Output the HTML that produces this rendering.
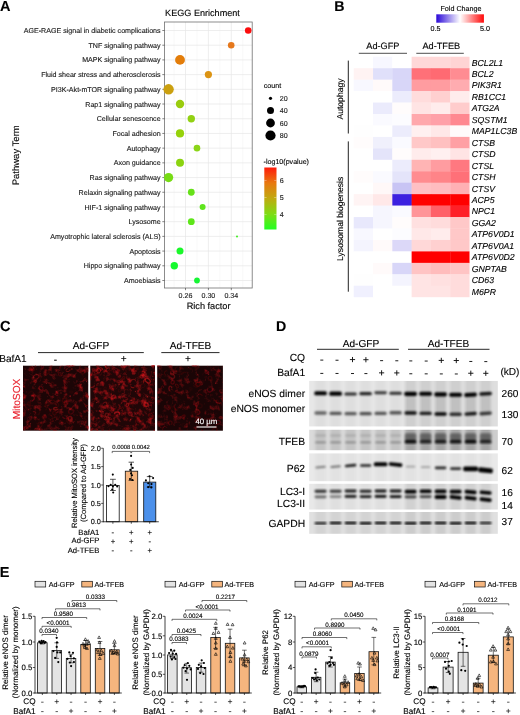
<!DOCTYPE html>
<html lang="en"><head><meta charset="utf-8"><title>Figure</title>
<style>
html,body{margin:0;padding:0;background:#fff;}
body{width:520px;height:715px;overflow:hidden;}
svg{display:block;font-family:"Liberation Sans",sans-serif;}
text{text-rendering:geometricPrecision;stroke:#000;stroke-width:0.12px;paint-order:stroke;}
</style></head><body>
<svg width="520" height="715" viewBox="0 0 520 715">
<rect width="520" height="715" fill="#fff"/>
<g id="panelA">
<text x="0" y="10.6" font-size="14.5" font-weight="bold">A</text>
<text x="202.5" y="15.5" font-size="9.1" text-anchor="middle">KEGG Enrichment</text>
<rect x="164.5" y="22" width="87.7" height="266" fill="#fff"/>
<line x1="174.1" y1="22" x2="174.1" y2="288" stroke="#f0f0f0" stroke-width="0.4"/>
<line x1="197" y1="22" x2="197" y2="288" stroke="#f0f0f0" stroke-width="0.4"/>
<line x1="219.9" y1="22" x2="219.9" y2="288" stroke="#f0f0f0" stroke-width="0.4"/>
<line x1="242.8" y1="22" x2="242.8" y2="288" stroke="#f0f0f0" stroke-width="0.4"/>
<line x1="185.5" y1="22" x2="185.5" y2="288" stroke="#e6e6e6" stroke-width="0.7"/>
<line x1="208.4" y1="22" x2="208.4" y2="288" stroke="#e6e6e6" stroke-width="0.7"/>
<line x1="231.3" y1="22" x2="231.3" y2="288" stroke="#e6e6e6" stroke-width="0.7"/>
<line x1="164.5" y1="30.5" x2="252.2" y2="30.5" stroke="#e6e6e6" stroke-width="0.7"/>
<line x1="164.5" y1="45.21" x2="252.2" y2="45.21" stroke="#e6e6e6" stroke-width="0.7"/>
<line x1="164.5" y1="59.91" x2="252.2" y2="59.91" stroke="#e6e6e6" stroke-width="0.7"/>
<line x1="164.5" y1="74.62" x2="252.2" y2="74.62" stroke="#e6e6e6" stroke-width="0.7"/>
<line x1="164.5" y1="89.32" x2="252.2" y2="89.32" stroke="#e6e6e6" stroke-width="0.7"/>
<line x1="164.5" y1="104.03" x2="252.2" y2="104.03" stroke="#e6e6e6" stroke-width="0.7"/>
<line x1="164.5" y1="118.74" x2="252.2" y2="118.74" stroke="#e6e6e6" stroke-width="0.7"/>
<line x1="164.5" y1="133.44" x2="252.2" y2="133.44" stroke="#e6e6e6" stroke-width="0.7"/>
<line x1="164.5" y1="148.15" x2="252.2" y2="148.15" stroke="#e6e6e6" stroke-width="0.7"/>
<line x1="164.5" y1="162.85" x2="252.2" y2="162.85" stroke="#e6e6e6" stroke-width="0.7"/>
<line x1="164.5" y1="177.56" x2="252.2" y2="177.56" stroke="#e6e6e6" stroke-width="0.7"/>
<line x1="164.5" y1="192.26" x2="252.2" y2="192.26" stroke="#e6e6e6" stroke-width="0.7"/>
<line x1="164.5" y1="206.97" x2="252.2" y2="206.97" stroke="#e6e6e6" stroke-width="0.7"/>
<line x1="164.5" y1="221.68" x2="252.2" y2="221.68" stroke="#e6e6e6" stroke-width="0.7"/>
<line x1="164.5" y1="236.38" x2="252.2" y2="236.38" stroke="#e6e6e6" stroke-width="0.7"/>
<line x1="164.5" y1="251.09" x2="252.2" y2="251.09" stroke="#e6e6e6" stroke-width="0.7"/>
<line x1="164.5" y1="265.79" x2="252.2" y2="265.79" stroke="#e6e6e6" stroke-width="0.7"/>
<line x1="164.5" y1="280.5" x2="252.2" y2="280.5" stroke="#e6e6e6" stroke-width="0.7"/>
<rect x="164.5" y="22" width="87.7" height="266" fill="none" stroke="#707070" stroke-width="0.8"/>
<g font-size="7.1" text-anchor="end" fill="#1a1a1a">
<text x="160.6" y="33.05">AGE-RAGE signal in diabetic complications</text>
<text x="160.6" y="47.76">TNF signaling pathway</text>
<text x="160.6" y="62.46">MAPK signaling pathway</text>
<text x="160.6" y="77.17">Fluid shear stress and atherosclerosis</text>
<text x="160.6" y="91.87">PI3K-Akt-mTOR signaling pathway</text>
<text x="160.6" y="106.58">Rap1 signaling pathway</text>
<text x="160.6" y="121.29">Cellular senescence</text>
<text x="160.6" y="135.99">Focal adhesion</text>
<text x="160.6" y="150.7">Autophagy</text>
<text x="160.6" y="165.4">Axon guidance</text>
<text x="160.6" y="180.11">Ras signaling pathway</text>
<text x="160.6" y="194.81">Relaxin signaling pathway</text>
<text x="160.6" y="209.52">HIF-1 signaling pathway</text>
<text x="160.6" y="224.23">Lysosome</text>
<text x="160.6" y="238.93">Amyotrophic lateral sclerosis (ALS)</text>
<text x="160.6" y="253.64">Apoptosis</text>
<text x="160.6" y="268.34">Hippo signaling pathway</text>
<text x="160.6" y="283.05">Amoebiasis</text>
</g>
<line x1="162.3" y1="30.5" x2="164.5" y2="30.5" stroke="#333" stroke-width="0.6"/>
<line x1="162.3" y1="45.21" x2="164.5" y2="45.21" stroke="#333" stroke-width="0.6"/>
<line x1="162.3" y1="59.91" x2="164.5" y2="59.91" stroke="#333" stroke-width="0.6"/>
<line x1="162.3" y1="74.62" x2="164.5" y2="74.62" stroke="#333" stroke-width="0.6"/>
<line x1="162.3" y1="89.32" x2="164.5" y2="89.32" stroke="#333" stroke-width="0.6"/>
<line x1="162.3" y1="104.03" x2="164.5" y2="104.03" stroke="#333" stroke-width="0.6"/>
<line x1="162.3" y1="118.74" x2="164.5" y2="118.74" stroke="#333" stroke-width="0.6"/>
<line x1="162.3" y1="133.44" x2="164.5" y2="133.44" stroke="#333" stroke-width="0.6"/>
<line x1="162.3" y1="148.15" x2="164.5" y2="148.15" stroke="#333" stroke-width="0.6"/>
<line x1="162.3" y1="162.85" x2="164.5" y2="162.85" stroke="#333" stroke-width="0.6"/>
<line x1="162.3" y1="177.56" x2="164.5" y2="177.56" stroke="#333" stroke-width="0.6"/>
<line x1="162.3" y1="192.26" x2="164.5" y2="192.26" stroke="#333" stroke-width="0.6"/>
<line x1="162.3" y1="206.97" x2="164.5" y2="206.97" stroke="#333" stroke-width="0.6"/>
<line x1="162.3" y1="221.68" x2="164.5" y2="221.68" stroke="#333" stroke-width="0.6"/>
<line x1="162.3" y1="236.38" x2="164.5" y2="236.38" stroke="#333" stroke-width="0.6"/>
<line x1="162.3" y1="251.09" x2="164.5" y2="251.09" stroke="#333" stroke-width="0.6"/>
<line x1="162.3" y1="265.79" x2="164.5" y2="265.79" stroke="#333" stroke-width="0.6"/>
<line x1="162.3" y1="280.5" x2="164.5" y2="280.5" stroke="#333" stroke-width="0.6"/>
<circle cx="248.2" cy="30.5" r="3.3" fill="#fb0d0d"/>
<circle cx="231.2" cy="45.21" r="3.3" fill="#e5781c"/>
<circle cx="180" cy="59.91" r="4.9" fill="#e37d0a"/>
<circle cx="208.4" cy="74.62" r="3.6" fill="#dc9414"/>
<circle cx="168.6" cy="89.32" r="5.2" fill="#cba00f"/>
<circle cx="180" cy="104.03" r="4.2" fill="#9acc0e"/>
<circle cx="191.3" cy="118.74" r="3.7" fill="#92d113"/>
<circle cx="180" cy="133.44" r="4.1" fill="#96d20a"/>
<circle cx="197" cy="148.15" r="3.3" fill="#8bd518"/>
<circle cx="180" cy="162.85" r="4" fill="#8bd30f"/>
<circle cx="168.6" cy="177.56" r="4.6" fill="#77dc14"/>
<circle cx="191.3" cy="192.26" r="3.4" fill="#66e119"/>
<circle cx="202.6" cy="206.97" r="3" fill="#5fe51e"/>
<circle cx="191.3" cy="221.68" r="3.4" fill="#5ee619"/>
<circle cx="237" cy="236.38" r="1" fill="#3cee1e"/>
<circle cx="180" cy="251.09" r="3.5" fill="#1af82a"/>
<circle cx="174.3" cy="265.79" r="3.7" fill="#15f92e"/>
<circle cx="197" cy="280.5" r="2.9" fill="#16f534"/>
<line x1="185.5" y1="288" x2="185.5" y2="290.2" stroke="#333" stroke-width="0.6"/>
<text x="185.5" y="297.54" font-size="7.1" text-anchor="middle" fill="#1a1a1a">0.26</text>
<line x1="208.4" y1="288" x2="208.4" y2="290.2" stroke="#333" stroke-width="0.6"/>
<text x="208.4" y="297.54" font-size="7.1" text-anchor="middle" fill="#1a1a1a">0.30</text>
<line x1="231.3" y1="288" x2="231.3" y2="290.2" stroke="#333" stroke-width="0.6"/>
<text x="231.3" y="297.54" font-size="7.1" text-anchor="middle" fill="#1a1a1a">0.34</text>
<text x="208.6" y="308.79" font-size="9.2" text-anchor="middle">Rich factor</text>
<text x="18.6" y="155.3" font-size="9.5" text-anchor="middle" transform="rotate(-90 18.6 155.3)">Pathway Term</text>
<text x="263.8" y="88.14" font-size="7.1">count</text>
<circle cx="270.5" cy="98.3" r="1.6" fill="#000"/>
<text x="279.8" y="100.84" font-size="7.1" fill="#1a1a1a">20</text>
<circle cx="270.5" cy="110.6" r="3.5" fill="#000"/>
<text x="279.8" y="113.14" font-size="7.1" fill="#1a1a1a">40</text>
<circle cx="270.5" cy="123" r="4.4" fill="#000"/>
<text x="279.8" y="125.54" font-size="7.1" fill="#1a1a1a">60</text>
<circle cx="270.5" cy="135.5" r="5.1" fill="#000"/>
<text x="279.8" y="138.04" font-size="7.1" fill="#1a1a1a">80</text>
<text x="263.6" y="164.14" font-size="7.1">-log10(pvalue)</text>
<defs><linearGradient id="gp" x1="0" y1="0" x2="0" y2="1"><stop offset="0" stop-color="#ff1a0a"/><stop offset="0.25" stop-color="#e8780f"/><stop offset="0.5" stop-color="#c0aa10"/><stop offset="0.75" stop-color="#7fdc14"/><stop offset="1" stop-color="#22ff22"/></linearGradient></defs>
<rect x="264.3" y="167.5" width="12.2" height="62" fill="url(#gp)"/>
<line x1="264.3" y1="180.6" x2="266.6" y2="180.6" stroke="#fff" stroke-width="0.5" opacity="0.7"/>
<line x1="274.2" y1="180.6" x2="276.5" y2="180.6" stroke="#fff" stroke-width="0.5" opacity="0.7"/>
<text x="279.8" y="183.14" font-size="7.1" fill="#1a1a1a">6</text>
<line x1="264.3" y1="197.5" x2="266.6" y2="197.5" stroke="#fff" stroke-width="0.5" opacity="0.7"/>
<line x1="274.2" y1="197.5" x2="276.5" y2="197.5" stroke="#fff" stroke-width="0.5" opacity="0.7"/>
<text x="279.8" y="200.04" font-size="7.1" fill="#1a1a1a">5</text>
<line x1="264.3" y1="214.4" x2="266.6" y2="214.4" stroke="#fff" stroke-width="0.5" opacity="0.7"/>
<line x1="274.2" y1="214.4" x2="276.5" y2="214.4" stroke="#fff" stroke-width="0.5" opacity="0.7"/>
<text x="279.8" y="216.94" font-size="7.1" fill="#1a1a1a">4</text>
</g>
<g id="panelB">
<text x="334.2" y="11.3" font-size="14.2" font-weight="bold">B</text>
<text x="461" y="10.78" font-size="7.2" text-anchor="middle">Fold Change</text>
<defs><linearGradient id="gf" x1="0" y1="0" x2="1" y2="0"><stop offset="0" stop-color="#2a08d8"/><stop offset="0.5" stop-color="#ffffff"/><stop offset="1" stop-color="#ff0808"/></linearGradient></defs>
<rect x="436.3" y="14.3" width="47.6" height="8.4" fill="url(#gf)"/>
<text x="435.6" y="31.08" font-size="7.2" text-anchor="middle">0.5</text>
<text x="485" y="31.08" font-size="7.2" text-anchor="middle">5.0</text>
<text x="382.9" y="48.99" font-size="9.2" text-anchor="middle">Ad-GFP</text>
<text x="441.3" y="48.99" font-size="9.2" text-anchor="middle">Ad-TFEB</text>
<line x1="358.8" y1="53.3" x2="407" y2="53.3" stroke="#222" stroke-width="0.8"/>
<line x1="416.3" y1="53.3" x2="463.8" y2="53.3" stroke="#222" stroke-width="0.8"/>
<g>
<rect x="353.75" y="56.75" width="19.59" height="11.75" fill="#ffffff"/>
<rect x="373.04" y="56.75" width="19.59" height="11.75" fill="#f7f7ff"/>
<rect x="392.33" y="56.75" width="19.59" height="11.75" fill="#ffffff"/>
<rect x="411.62" y="56.75" width="19.59" height="11.75" fill="#ffd8d8"/>
<rect x="430.92" y="56.75" width="19.59" height="11.75" fill="#ffd8d8"/>
<rect x="450.21" y="56.75" width="19.29" height="11.75" fill="#ffd4d4"/>
<rect x="353.75" y="68.2" width="19.59" height="11.75" fill="#fff3f3"/>
<rect x="373.04" y="68.2" width="19.59" height="11.75" fill="#e0e0fa"/>
<rect x="392.33" y="68.2" width="19.59" height="11.75" fill="#d8d6f8"/>
<rect x="411.62" y="68.2" width="19.59" height="11.75" fill="#ff7078"/>
<rect x="430.92" y="68.2" width="19.59" height="11.75" fill="#ff6a72"/>
<rect x="450.21" y="68.2" width="19.29" height="11.75" fill="#ff8c92"/>
<rect x="353.75" y="79.65" width="19.59" height="11.75" fill="#f8f8ff"/>
<rect x="373.04" y="79.65" width="19.59" height="11.75" fill="#fffafa"/>
<rect x="392.33" y="79.65" width="19.59" height="11.75" fill="#d8d6f8"/>
<rect x="411.62" y="79.65" width="19.59" height="11.75" fill="#ff9ca0"/>
<rect x="430.92" y="79.65" width="19.59" height="11.75" fill="#ff9ca0"/>
<rect x="450.21" y="79.65" width="19.29" height="11.75" fill="#ffacb0"/>
<rect x="353.75" y="91.1" width="19.59" height="11.75" fill="#ffffff"/>
<rect x="373.04" y="91.1" width="19.59" height="11.75" fill="#ffffff"/>
<rect x="392.33" y="91.1" width="19.59" height="11.75" fill="#ececfc"/>
<rect x="411.62" y="91.1" width="19.59" height="11.75" fill="#ffdcdc"/>
<rect x="430.92" y="91.1" width="19.59" height="11.75" fill="#ffd0d0"/>
<rect x="450.21" y="91.1" width="19.29" height="11.75" fill="#ffecec"/>
<rect x="353.75" y="102.55" width="19.59" height="11.75" fill="#ffffff"/>
<rect x="373.04" y="102.55" width="19.59" height="11.75" fill="#ebebfc"/>
<rect x="392.33" y="102.55" width="19.59" height="11.75" fill="#fffcfc"/>
<rect x="411.62" y="102.55" width="19.59" height="11.75" fill="#ffe4e4"/>
<rect x="430.92" y="102.55" width="19.59" height="11.75" fill="#ffecec"/>
<rect x="450.21" y="102.55" width="19.29" height="11.75" fill="#ffcccc"/>
<rect x="353.75" y="114" width="19.59" height="11.75" fill="#ffffff"/>
<rect x="373.04" y="114" width="19.59" height="11.75" fill="#fafaff"/>
<rect x="392.33" y="114" width="19.59" height="11.75" fill="#fcfcff"/>
<rect x="411.62" y="114" width="19.59" height="11.75" fill="#ffa8ac"/>
<rect x="430.92" y="114" width="19.59" height="11.75" fill="#ffa0a8"/>
<rect x="450.21" y="114" width="19.29" height="11.75" fill="#ff8890"/>
<rect x="353.75" y="125.45" width="19.59" height="11.75" fill="#fefefe"/>
<rect x="373.04" y="125.45" width="19.59" height="11.75" fill="#ffffff"/>
<rect x="392.33" y="125.45" width="19.59" height="11.75" fill="#ececfc"/>
<rect x="411.62" y="125.45" width="19.59" height="11.75" fill="#fff0f0"/>
<rect x="430.92" y="125.45" width="19.59" height="11.75" fill="#ffe8e8"/>
<rect x="450.21" y="125.45" width="19.29" height="11.75" fill="#fffafa"/>
<rect x="353.75" y="136.9" width="19.59" height="11.75" fill="#fffcfc"/>
<rect x="373.04" y="136.9" width="19.59" height="11.75" fill="#f0f0fc"/>
<rect x="392.33" y="136.9" width="19.59" height="11.75" fill="#fafaff"/>
<rect x="411.62" y="136.9" width="19.59" height="11.75" fill="#ffc8c8"/>
<rect x="430.92" y="136.9" width="19.59" height="11.75" fill="#ffc0c0"/>
<rect x="450.21" y="136.9" width="19.29" height="11.75" fill="#ffa0a4"/>
<rect x="353.75" y="148.35" width="19.59" height="11.75" fill="#ffffff"/>
<rect x="373.04" y="148.35" width="19.59" height="11.75" fill="#e4e4fa"/>
<rect x="392.33" y="148.35" width="19.59" height="11.75" fill="#fffcfc"/>
<rect x="411.62" y="148.35" width="19.59" height="11.75" fill="#ffecec"/>
<rect x="430.92" y="148.35" width="19.59" height="11.75" fill="#fff0f0"/>
<rect x="450.21" y="148.35" width="19.29" height="11.75" fill="#ffe4e4"/>
<rect x="353.75" y="159.8" width="19.59" height="11.75" fill="#ffffff"/>
<rect x="373.04" y="159.8" width="19.59" height="11.75" fill="#ffffff"/>
<rect x="392.33" y="159.8" width="19.59" height="11.75" fill="#ececfc"/>
<rect x="411.62" y="159.8" width="19.59" height="11.75" fill="#ffb4b4"/>
<rect x="430.92" y="159.8" width="19.59" height="11.75" fill="#ff9ca0"/>
<rect x="450.21" y="159.8" width="19.29" height="11.75" fill="#ff7880"/>
<rect x="353.75" y="171.25" width="19.59" height="11.75" fill="#fffcfc"/>
<rect x="373.04" y="171.25" width="19.59" height="11.75" fill="#fafaff"/>
<rect x="392.33" y="171.25" width="19.59" height="11.75" fill="#e4e4fa"/>
<rect x="411.62" y="171.25" width="19.59" height="11.75" fill="#ff8c90"/>
<rect x="430.92" y="171.25" width="19.59" height="11.75" fill="#ff8488"/>
<rect x="450.21" y="171.25" width="19.29" height="11.75" fill="#ff7078"/>
<rect x="353.75" y="182.7" width="19.59" height="11.75" fill="#ffffff"/>
<rect x="373.04" y="182.7" width="19.59" height="11.75" fill="#fff8f8"/>
<rect x="392.33" y="182.7" width="19.59" height="11.75" fill="#c8c4f4"/>
<rect x="411.62" y="182.7" width="19.59" height="11.75" fill="#ffc0c4"/>
<rect x="430.92" y="182.7" width="19.59" height="11.75" fill="#ffbcc0"/>
<rect x="450.21" y="182.7" width="19.29" height="11.75" fill="#ffb0b4"/>
<rect x="353.75" y="194.15" width="19.59" height="11.75" fill="#fff4f4"/>
<rect x="373.04" y="194.15" width="19.59" height="11.75" fill="#ffe8e8"/>
<rect x="392.33" y="194.15" width="19.59" height="11.75" fill="#3c20e0"/>
<rect x="411.62" y="194.15" width="19.59" height="11.75" fill="#ff0000"/>
<rect x="430.92" y="194.15" width="19.59" height="11.75" fill="#ff0000"/>
<rect x="450.21" y="194.15" width="19.29" height="11.75" fill="#ff0000"/>
<rect x="353.75" y="205.6" width="19.59" height="11.75" fill="#ffffff"/>
<rect x="373.04" y="205.6" width="19.59" height="11.75" fill="#f6f6fe"/>
<rect x="392.33" y="205.6" width="19.59" height="11.75" fill="#fafaff"/>
<rect x="411.62" y="205.6" width="19.59" height="11.75" fill="#ff9498"/>
<rect x="430.92" y="205.6" width="19.59" height="11.75" fill="#ff6068"/>
<rect x="450.21" y="205.6" width="19.29" height="11.75" fill="#ff2028"/>
<rect x="353.75" y="217.05" width="19.59" height="11.75" fill="#e8e8fc"/>
<rect x="373.04" y="217.05" width="19.59" height="11.75" fill="#f6f6fe"/>
<rect x="392.33" y="217.05" width="19.59" height="11.75" fill="#fffcfc"/>
<rect x="411.62" y="217.05" width="19.59" height="11.75" fill="#ffe0e0"/>
<rect x="430.92" y="217.05" width="19.59" height="11.75" fill="#ffdcdc"/>
<rect x="450.21" y="217.05" width="19.29" height="11.75" fill="#ffc8c8"/>
<rect x="353.75" y="228.5" width="19.59" height="11.75" fill="#f8f8ff"/>
<rect x="373.04" y="228.5" width="19.59" height="11.75" fill="#ffffff"/>
<rect x="392.33" y="228.5" width="19.59" height="11.75" fill="#fcfcff"/>
<rect x="411.62" y="228.5" width="19.59" height="11.75" fill="#ffe8e8"/>
<rect x="430.92" y="228.5" width="19.59" height="11.75" fill="#ffecec"/>
<rect x="450.21" y="228.5" width="19.29" height="11.75" fill="#ffc8c8"/>
<rect x="353.75" y="239.95" width="19.59" height="11.75" fill="#f4f4fe"/>
<rect x="373.04" y="239.95" width="19.59" height="11.75" fill="#fffafa"/>
<rect x="392.33" y="239.95" width="19.59" height="11.75" fill="#dcd8f8"/>
<rect x="411.62" y="239.95" width="19.59" height="11.75" fill="#ffd8d8"/>
<rect x="430.92" y="239.95" width="19.59" height="11.75" fill="#ffd0d0"/>
<rect x="450.21" y="239.95" width="19.29" height="11.75" fill="#ffc8c8"/>
<rect x="353.75" y="251.4" width="19.59" height="11.75" fill="#ffffff"/>
<rect x="373.04" y="251.4" width="19.59" height="11.75" fill="#ffffff"/>
<rect x="392.33" y="251.4" width="19.59" height="11.75" fill="#ffffff"/>
<rect x="411.62" y="251.4" width="19.59" height="11.75" fill="#ff0000"/>
<rect x="430.92" y="251.4" width="19.59" height="11.75" fill="#ff0000"/>
<rect x="450.21" y="251.4" width="19.29" height="11.75" fill="#ff0000"/>
<rect x="353.75" y="262.85" width="19.59" height="11.75" fill="#ffffff"/>
<rect x="373.04" y="262.85" width="19.59" height="11.75" fill="#fffafa"/>
<rect x="392.33" y="262.85" width="19.59" height="11.75" fill="#d8d6f8"/>
<rect x="411.62" y="262.85" width="19.59" height="11.75" fill="#ffc4c4"/>
<rect x="430.92" y="262.85" width="19.59" height="11.75" fill="#ffbcbc"/>
<rect x="450.21" y="262.85" width="19.29" height="11.75" fill="#ffc4c4"/>
<rect x="353.75" y="274.3" width="19.59" height="11.75" fill="#fefefe"/>
<rect x="373.04" y="274.3" width="19.59" height="11.75" fill="#ffffff"/>
<rect x="392.33" y="274.3" width="19.59" height="11.75" fill="#f4f4fe"/>
<rect x="411.62" y="274.3" width="19.59" height="11.75" fill="#ffe4e4"/>
<rect x="430.92" y="274.3" width="19.59" height="11.75" fill="#ffe0e0"/>
<rect x="450.21" y="274.3" width="19.29" height="11.75" fill="#ffdcdc"/>
<rect x="353.75" y="285.75" width="19.59" height="11.45" fill="#f0f0fe"/>
<rect x="373.04" y="285.75" width="19.59" height="11.45" fill="#ffffff"/>
<rect x="392.33" y="285.75" width="19.59" height="11.45" fill="#ffffff"/>
<rect x="411.62" y="285.75" width="19.59" height="11.45" fill="#ffe4e4"/>
<rect x="430.92" y="285.75" width="19.59" height="11.45" fill="#ffe4e4"/>
<rect x="450.21" y="285.75" width="19.29" height="11.45" fill="#ffdcdc"/>
</g>
<g font-size="8.7" font-style="italic">
<text x="471.8" y="65.59">BCL2L1</text>
<text x="471.8" y="77.04">BCL2</text>
<text x="471.8" y="88.49">PIK3R1</text>
<text x="471.8" y="99.94">RB1CC1</text>
<text x="471.8" y="111.39">ATG2A</text>
<text x="471.8" y="122.84">SQSTM1</text>
<text x="471.8" y="134.29">MAP1LC3B</text>
<text x="471.8" y="145.74">CTSB</text>
<text x="471.8" y="157.19">CTSD</text>
<text x="471.8" y="168.64">CTSL</text>
<text x="471.8" y="180.09">CTSH</text>
<text x="471.8" y="191.54">CTSV</text>
<text x="471.8" y="202.99">ACP5</text>
<text x="471.8" y="214.44">NPC1</text>
<text x="471.8" y="225.89">GGA2</text>
<text x="471.8" y="237.34">ATP6V0D1</text>
<text x="471.8" y="248.79">ATP6V0A1</text>
<text x="471.8" y="260.24">ATP6V0D2</text>
<text x="471.8" y="271.69">GNPTAB</text>
<text x="471.8" y="283.14">CD63</text>
<text x="471.8" y="294.59">M6PR</text>
</g>
<line x1="348.3" y1="60.6" x2="348.3" y2="133.5" stroke="#222" stroke-width="1"/>
<line x1="348.3" y1="141.4" x2="348.3" y2="291.7" stroke="#222" stroke-width="1"/>
<text x="343.48" y="99" font-size="8.6" text-anchor="middle" transform="rotate(-90 343.48 99)">Autophagy</text>
<text x="343.48" y="218.8" font-size="8.6" text-anchor="middle" transform="rotate(-90 343.48 218.8)">Lysosomal biogenesis</text>
</g>
<g id="panelC">
<defs><filter id="blur0" x="-20%" y="-20%" width="140%" height="140%"><feGaussianBlur stdDeviation="0.35"/></filter><filter id="blur1" x="-20%" y="-20%" width="140%" height="140%"><feGaussianBlur stdDeviation="0.65"/></filter><filter id="blur2" x="-20%" y="-20%" width="140%" height="140%"><feGaussianBlur stdDeviation="1.6"/></filter></defs>
<text x="0" y="330.6" font-size="14.5" font-weight="bold">C</text>
<text x="91" y="349.22" font-size="10.1" text-anchor="middle">Ad-GFP</text>
<text x="190.6" y="349.22" font-size="10.1" text-anchor="middle">Ad-TFEB</text>
<line x1="38" y1="352.6" x2="143.8" y2="352.6" stroke="#111" stroke-width="0.9"/>
<line x1="161.3" y1="352.6" x2="219.5" y2="352.6" stroke="#111" stroke-width="0.9"/>
<text x="-0.8" y="361.82" font-size="10.1">BafA1</text>
<text x="55.5" y="362.62" font-size="10.1" text-anchor="middle">-</text>
<text x="123.8" y="362.22" font-size="10.1" text-anchor="middle">+</text>
<text x="188" y="362.22" font-size="10.1" text-anchor="middle">+</text>
<text x="19.95" y="399" font-size="10.2" text-anchor="middle" transform="rotate(-90 19.95 399)" fill="#e8202c" style="stroke:#e8202c">MitoSOX</text>
<clipPath id="mc1"><rect x="23" y="365.7" width="65.25" height="65"/></clipPath>
<filter id="nz1" x="0" y="0" width="100%" height="100%" color-interpolation-filters="sRGB"><feTurbulence type="fractalNoise" baseFrequency="0.19" numOctaves="3" seed="11"/><feColorMatrix values="0 0 0 0 0.72  0 0 0 0 0.07  0 0 0 0 0.09  1.9 0 0 0 -0.96"/></filter>
<rect x="23" y="365.7" width="65.25" height="65" fill="#1c0506"/>
<rect x="23" y="365.7" width="65.25" height="65" fill="#000" filter="url(#nz1)"/>
<g clip-path="url(#mc1)">
<g filter="url(#blur1)" fill="none" stroke="#d8161c">
<ellipse cx="52.52" cy="402.09" rx="2.78" ry="1.97" stroke-width="0.93" stroke-dasharray="10.7 15.14" opacity="0.15" transform="rotate(182.82 52.52 402.09)"/>
<ellipse cx="64.1" cy="417.24" rx="1.45" ry="0.92" stroke-width="1.29" stroke-dasharray="3.25 7.64" opacity="0.28" transform="rotate(32.64 64.1 417.24)"/>
<ellipse cx="87.09" cy="428.41" rx="2.35" ry="1.82" stroke-width="1.17" stroke-dasharray="5.75 13.2" opacity="0.06" transform="rotate(56.7 87.09 428.41)"/>
<ellipse cx="35.41" cy="381.43" rx="1.35" ry="0.96" stroke-width="1.16" stroke-dasharray="5.76 7.34" opacity="0.3" transform="rotate(158.59 35.41 381.43)"/>
<ellipse cx="55.61" cy="408.76" rx="2.03" ry="1.27" stroke-width="1.39" stroke-dasharray="8.78 10.65" opacity="0.43" transform="rotate(359.16 55.61 408.76)"/>
<ellipse cx="43.57" cy="380.63" rx="1.76" ry="0.94" stroke-width="1.39" stroke-dasharray="5.6 8.87" opacity="0.09" transform="rotate(275.86 43.57 380.63)"/>
<ellipse cx="85.51" cy="420.78" rx="1.3" ry="0.77" stroke-width="1.49" stroke-dasharray="4.29 6.72" opacity="0.11" transform="rotate(327.7 85.51 420.78)"/>
<ellipse cx="27.77" cy="406.61" rx="2.55" ry="1.58" stroke-width="1.47" stroke-dasharray="11.38 13.32" opacity="0.08" transform="rotate(31.37 27.77 406.61)"/>
<ellipse cx="30.7" cy="381.72" rx="1.46" ry="0.77" stroke-width="1.19" stroke-dasharray="4.91 7.34" opacity="0.06" transform="rotate(286.93 30.7 381.72)"/>
<ellipse cx="35.44" cy="413.27" rx="1.51" ry="1.19" stroke-width="0.95" stroke-dasharray="4.8 8.55" opacity="0.1" transform="rotate(41.94 35.44 413.27)"/>
<ellipse cx="86.35" cy="417.92" rx="1.79" ry="1.6" stroke-width="1.4" stroke-dasharray="8.38 10.67" opacity="0.09" transform="rotate(75.86 86.35 417.92)"/>
<ellipse cx="29.55" cy="430" rx="1.64" ry="1.01" stroke-width="1.01" stroke-dasharray="3.8 8.56" opacity="0.08" transform="rotate(278.17 29.55 430)"/>
<ellipse cx="28.88" cy="403.58" rx="1.69" ry="1.3" stroke-width="1.47" stroke-dasharray="6.54 9.47" opacity="0.11" transform="rotate(133.81 28.88 403.58)"/>
<ellipse cx="60.49" cy="422.02" rx="1.59" ry="0.91" stroke-width="0.97" stroke-dasharray="4.18 8.14" opacity="0.28" transform="rotate(327.03 60.49 422.02)"/>
<ellipse cx="71.25" cy="426.83" rx="1.61" ry="1.5" stroke-width="1.1" stroke-dasharray="4.52 9.78" opacity="0.16" transform="rotate(317.59 71.25 426.83)"/>
<ellipse cx="25.52" cy="428.27" rx="1.68" ry="1.37" stroke-width="1.22" stroke-dasharray="5.56 9.65" opacity="0.29" transform="rotate(92.51 25.52 428.27)"/>
<ellipse cx="34.45" cy="412.52" rx="1.41" ry="0.85" stroke-width="1.23" stroke-dasharray="4.16 7.31" opacity="0.31" transform="rotate(201.37 34.45 412.52)"/>
<ellipse cx="82.86" cy="378.96" rx="1.33" ry="0.82" stroke-width="0.92" stroke-dasharray="4.31 6.94" opacity="0.06" transform="rotate(160.45 82.86 378.96)"/>
<ellipse cx="60.33" cy="374.25" rx="1.88" ry="1.69" stroke-width="1.28" stroke-dasharray="8.44 11.24" opacity="0.19" transform="rotate(352.98 60.33 374.25)"/>
<ellipse cx="32.16" cy="367.98" rx="1.33" ry="1.21" stroke-width="0.81" stroke-dasharray="6.24 7.98" opacity="0.4" transform="rotate(252.35 32.16 367.98)"/>
<ellipse cx="54.47" cy="413.18" rx="1.81" ry="1.72" stroke-width="1.32" stroke-dasharray="10.43 11.09" opacity="0.14" transform="rotate(27.09 54.47 413.18)"/>
<ellipse cx="71.1" cy="411.44" rx="2.57" ry="2.34" stroke-width="1.43" stroke-dasharray="14.25 15.45" opacity="0.2" transform="rotate(126.66 71.1 411.44)"/>
<ellipse cx="50.22" cy="417.08" rx="2.68" ry="2.03" stroke-width="1.21" stroke-dasharray="11.44 14.95" opacity="0.09" transform="rotate(224.99 50.22 417.08)"/>
<ellipse cx="28.23" cy="407.26" rx="2.89" ry="2.59" stroke-width="1.31" stroke-dasharray="12.9 17.24" opacity="0.09" transform="rotate(262.15 28.23 407.26)"/>
<ellipse cx="51.74" cy="420.19" rx="1.43" ry="1.2" stroke-width="1.14" stroke-dasharray="4.47 8.31" opacity="0.16" transform="rotate(10.72 51.74 420.19)"/>
<ellipse cx="68.57" cy="398.02" rx="2.28" ry="2.09" stroke-width="1.01" stroke-dasharray="11.09 13.74" opacity="0.06" transform="rotate(92.1 68.57 398.02)"/>
<ellipse cx="36.22" cy="376.72" rx="2.75" ry="2.19" stroke-width="1.03" stroke-dasharray="12.49 15.62" opacity="0.34" transform="rotate(159.1 36.22 376.72)"/>
<ellipse cx="35.95" cy="393.71" rx="2.59" ry="2.36" stroke-width="1.21" stroke-dasharray="9.18 15.57" opacity="0.09" transform="rotate(316.9 35.95 393.71)"/>
<ellipse cx="31.89" cy="397.97" rx="2.64" ry="2.33" stroke-width="0.99" stroke-dasharray="7.84 15.64" opacity="0.39" transform="rotate(256.04 31.89 397.97)"/>
<ellipse cx="52.4" cy="383.59" rx="1.64" ry="1.13" stroke-width="1.02" stroke-dasharray="8 8.85" opacity="0.12" transform="rotate(225.26 52.4 383.59)"/>
<ellipse cx="87.08" cy="395.11" rx="1.42" ry="0.73" stroke-width="1.3" stroke-dasharray="5.26 7.09" opacity="0.06" transform="rotate(314.22 87.08 395.11)"/>
<ellipse cx="43.16" cy="417.15" rx="1.33" ry="0.75" stroke-width="1.38" stroke-dasharray="3.68 6.78" opacity="0.06" transform="rotate(163.74 43.16 417.15)"/>
<ellipse cx="32.19" cy="368.75" rx="2.31" ry="1.62" stroke-width="1.37" stroke-dasharray="12.2 12.52" opacity="0.18" transform="rotate(226.79 32.19 368.75)"/>
<ellipse cx="67.66" cy="378.66" rx="2.06" ry="1.2" stroke-width="1.3" stroke-dasharray="5.37 10.58" opacity="0.11" transform="rotate(3.88 67.66 378.66)"/>
<ellipse cx="40.77" cy="388.17" rx="2.42" ry="1.77" stroke-width="1.08" stroke-dasharray="11.65 13.31" opacity="0.24" transform="rotate(221.2 40.77 388.17)"/>
<ellipse cx="82.13" cy="371.37" rx="2.79" ry="2.3" stroke-width="1.24" stroke-dasharray="15.21 16.08" opacity="0.11" transform="rotate(46.77 82.13 371.37)"/>
<ellipse cx="47.59" cy="402.67" rx="2.71" ry="2.32" stroke-width="1.26" stroke-dasharray="8.29 15.85" opacity="0.11" transform="rotate(339.93 47.59 402.67)"/>
<ellipse cx="70.11" cy="418.89" rx="2.33" ry="1.91" stroke-width="1.49" stroke-dasharray="13.21 13.39" opacity="0.35" transform="rotate(76.79 70.11 418.89)"/>
<ellipse cx="58.04" cy="417.1" rx="1.81" ry="1.65" stroke-width="0.86" stroke-dasharray="7.23 10.89" opacity="0.08" transform="rotate(308.08 58.04 417.1)"/>
<ellipse cx="58.91" cy="415.64" rx="2.08" ry="1.07" stroke-width="1.36" stroke-dasharray="5.23 10.38" opacity="0.06" transform="rotate(291.29 58.91 415.64)"/>
<ellipse cx="44.86" cy="416.91" rx="1.52" ry="0.86" stroke-width="1.39" stroke-dasharray="6.34 7.79" opacity="0.22" transform="rotate(185.95 44.86 416.91)"/>
<ellipse cx="84.71" cy="397.72" rx="2.82" ry="1.52" stroke-width="1" stroke-dasharray="11.91 14.22" opacity="0.13" transform="rotate(79.71 84.71 397.72)"/>
<ellipse cx="64.69" cy="399.68" rx="2.65" ry="1.99" stroke-width="1.39" stroke-dasharray="13.85 14.73" opacity="0.09" transform="rotate(112.21 64.69 399.68)"/>
<ellipse cx="36.59" cy="421" rx="2.85" ry="2.1" stroke-width="1.18" stroke-dasharray="11.03 15.72" opacity="0.07" transform="rotate(206.28 36.59 421)"/>
<ellipse cx="62.49" cy="367.5" rx="2.85" ry="2.09" stroke-width="1.19" stroke-dasharray="10.91 15.7" opacity="0.27" transform="rotate(144.21 62.49 367.5)"/>
<ellipse cx="68.09" cy="369.98" rx="2.16" ry="1.48" stroke-width="0.99" stroke-dasharray="7.97 11.65" opacity="0.36" transform="rotate(344.47 68.09 369.98)"/>
<ellipse cx="31.28" cy="393.89" rx="2.61" ry="2.36" stroke-width="0.93" stroke-dasharray="12.03 15.61" opacity="0.08" transform="rotate(171.55 31.28 393.89)"/>
<ellipse cx="83.37" cy="374.11" rx="2.55" ry="1.3" stroke-width="1.28" stroke-dasharray="7.54 12.7" opacity="0.07" transform="rotate(69.88 83.37 374.11)"/>
<ellipse cx="46.19" cy="405.98" rx="1.47" ry="1.22" stroke-width="0.98" stroke-dasharray="4.39 8.47" opacity="0.13" transform="rotate(44.2 46.19 405.98)"/>
<ellipse cx="57.61" cy="394.09" rx="1.9" ry="1.3" stroke-width="0.94" stroke-dasharray="7.98 10.24" opacity="0.06" transform="rotate(190.57 57.61 394.09)"/>
<ellipse cx="64.66" cy="400.13" rx="2.66" ry="2.06" stroke-width="1.32" stroke-dasharray="13.26 14.96" opacity="0.07" transform="rotate(308.44 64.66 400.13)"/>
<ellipse cx="81.9" cy="386.23" rx="1.8" ry="1.65" stroke-width="1.42" stroke-dasharray="5.22 10.87" opacity="0.43" transform="rotate(78.53 81.9 386.23)"/>
<ellipse cx="38.62" cy="412.93" rx="1.72" ry="0.93" stroke-width="1.35" stroke-dasharray="4.13 8.67" opacity="0.1" transform="rotate(299.58 38.62 412.93)"/>
<ellipse cx="49.28" cy="410.24" rx="1.33" ry="0.78" stroke-width="1.48" stroke-dasharray="3.22 6.85" opacity="0.35" transform="rotate(245.66 49.28 410.24)"/>
<ellipse cx="56" cy="414.98" rx="2.1" ry="1.7" stroke-width="0.87" stroke-dasharray="5.08 12.02" opacity="0.06" transform="rotate(68.04 56 414.98)"/>
<ellipse cx="59" cy="399.16" rx="2.21" ry="1.25" stroke-width="1.39" stroke-dasharray="11.22 11.28" opacity="0.07" transform="rotate(66.43 59 399.16)"/>
<ellipse cx="83.48" cy="371.89" rx="1.4" ry="1.3" stroke-width="1.03" stroke-dasharray="5.77 8.48" opacity="0.25" transform="rotate(166.35 83.48 371.89)"/>
<ellipse cx="56.62" cy="393.66" rx="2.26" ry="1.14" stroke-width="0.93" stroke-dasharray="7.57 11.26" opacity="0.3" transform="rotate(252.37 56.62 393.66)"/>
<ellipse cx="71.24" cy="392.04" rx="1.61" ry="0.93" stroke-width="1.43" stroke-dasharray="7.28 8.26" opacity="0.06" transform="rotate(184.52 71.24 392.04)"/>
<ellipse cx="68.98" cy="421.65" rx="2.31" ry="1.57" stroke-width="1.49" stroke-dasharray="10.95 12.41" opacity="0.12" transform="rotate(215.86 68.98 421.65)"/>
<ellipse cx="39.85" cy="424.93" rx="2.49" ry="2.12" stroke-width="1.43" stroke-dasharray="13.48 14.53" opacity="0.1" transform="rotate(293.27 39.85 424.93)"/>
<ellipse cx="68.34" cy="415.57" rx="2.52" ry="1.72" stroke-width="1.04" stroke-dasharray="9.25 13.58" opacity="0.06" transform="rotate(260.15 68.34 415.57)"/>
<ellipse cx="23.69" cy="388.82" rx="2.32" ry="1.81" stroke-width="1.27" stroke-dasharray="7.89 13.09" opacity="0.38" transform="rotate(83.56 23.69 388.82)"/>
<ellipse cx="66.05" cy="402.72" rx="2.15" ry="1.45" stroke-width="1.29" stroke-dasharray="9.89 11.54" opacity="0.18" transform="rotate(359.96 66.05 402.72)"/>
<ellipse cx="86.95" cy="367.18" rx="2.28" ry="1.9" stroke-width="0.84" stroke-dasharray="6.83 13.21" opacity="0.09" transform="rotate(92.39 86.95 367.18)"/>
<ellipse cx="47.51" cy="372.1" rx="1.7" ry="1.54" stroke-width="1.48" stroke-dasharray="7.56 10.21" opacity="0.12" transform="rotate(198.02 47.51 372.1)"/>
<ellipse cx="87.93" cy="407.17" rx="2.6" ry="1.39" stroke-width="0.83" stroke-dasharray="12.53 13.07" opacity="0.24" transform="rotate(215.11 87.93 407.17)"/>
<ellipse cx="33.44" cy="396.36" rx="1.57" ry="1.14" stroke-width="1.46" stroke-dasharray="5.62 8.61" opacity="0.06" transform="rotate(220.02 33.44 396.36)"/>
<ellipse cx="57.37" cy="404.56" rx="1.88" ry="1.18" stroke-width="1" stroke-dasharray="8.21 9.89" opacity="0.14" transform="rotate(235.84 57.37 404.56)"/>
<ellipse cx="42.32" cy="366.61" rx="1.69" ry="0.88" stroke-width="1.07" stroke-dasharray="7.95 8.47" opacity="0.24" transform="rotate(56.37 42.32 366.61)"/>
</g>
<g filter="url(#blur0)" fill="#ff2a2e">
<circle cx="71.83" cy="368.96" r="0.79" opacity="0.43"/>
<circle cx="27.8" cy="424.56" r="0.54" opacity="0.29"/>
<circle cx="86.5" cy="381.54" r="0.59" opacity="0.43"/>
<circle cx="70.16" cy="396.14" r="0.79" opacity="0.4"/>
<circle cx="62.39" cy="373.18" r="0.63" opacity="0.29"/>
<circle cx="36.29" cy="369.08" r="0.59" opacity="0.19"/>
<circle cx="51.9" cy="409.11" r="0.55" opacity="0.23"/>
<circle cx="60.99" cy="392.97" r="0.7" opacity="0.31"/>
<circle cx="88.1" cy="427.62" r="0.68" opacity="0.22"/>
<circle cx="30.43" cy="423.73" r="0.7" opacity="0.34"/>
<circle cx="46.44" cy="383.35" r="0.66" opacity="0.32"/>
<circle cx="61.61" cy="406.85" r="0.69" opacity="0.21"/>
<circle cx="39.24" cy="429.38" r="0.76" opacity="0.41"/>
<circle cx="25.58" cy="369.65" r="0.47" opacity="0.28"/>
<circle cx="63.67" cy="372.36" r="0.59" opacity="0.17"/>
<circle cx="28.64" cy="409.66" r="0.6" opacity="0.34"/>
<circle cx="47.35" cy="396.81" r="0.44" opacity="0.25"/>
</g>
</g>
<clipPath id="mc2"><rect x="90.25" y="365.7" width="64.75" height="65"/></clipPath>
<filter id="nz2" x="0" y="0" width="100%" height="100%" color-interpolation-filters="sRGB"><feTurbulence type="fractalNoise" baseFrequency="0.19" numOctaves="3" seed="22"/><feColorMatrix values="0 0 0 0 0.72  0 0 0 0 0.07  0 0 0 0 0.09  2.3 0 0 0 -1.08"/></filter>
<rect x="90.25" y="365.7" width="64.75" height="65" fill="#200607"/>
<rect x="90.25" y="365.7" width="64.75" height="65" fill="#000" filter="url(#nz2)"/>
<g clip-path="url(#mc2)">
<g filter="url(#blur1)" fill="none" stroke="#d8161c">
<ellipse cx="152.29" cy="374.82" rx="1.34" ry="1.27" stroke-width="1.26" stroke-dasharray="4.98 8.2" opacity="0.09" transform="rotate(66.33 152.29 374.82)"/>
<ellipse cx="147.85" cy="380.76" rx="2.84" ry="1.83" stroke-width="1.28" stroke-dasharray="14.3 14.98" opacity="0.52" transform="rotate(216.41 147.85 380.76)"/>
<ellipse cx="136.1" cy="368.85" rx="2.71" ry="2.07" stroke-width="1.39" stroke-dasharray="11.37 15.16" opacity="0.09" transform="rotate(111.85 136.1 368.85)"/>
<ellipse cx="150.98" cy="416.01" rx="2.84" ry="2.14" stroke-width="0.98" stroke-dasharray="15.39 15.8" opacity="0.23" transform="rotate(251.42 150.98 416.01)"/>
<ellipse cx="110.48" cy="416.47" rx="2.83" ry="2.24" stroke-width="1.27" stroke-dasharray="8.19 16.03" opacity="0.4" transform="rotate(51.2 110.48 416.47)"/>
<ellipse cx="93.43" cy="400.27" rx="1.35" ry="1.24" stroke-width="1.09" stroke-dasharray="6.49 8.14" opacity="0.18" transform="rotate(182.26 93.43 400.27)"/>
<ellipse cx="149.59" cy="385.67" rx="1.9" ry="1.45" stroke-width="1.18" stroke-dasharray="7 10.6" opacity="0.22" transform="rotate(107.03 149.59 385.67)"/>
<ellipse cx="133.84" cy="400.04" rx="1.44" ry="1.37" stroke-width="1.08" stroke-dasharray="8.45 8.82" opacity="0.14" transform="rotate(128.05 133.84 400.04)"/>
<ellipse cx="151.9" cy="398.98" rx="1.94" ry="1.05" stroke-width="1.18" stroke-dasharray="5.98 9.82" opacity="0.09" transform="rotate(322.38 151.9 398.98)"/>
<ellipse cx="111.51" cy="388.92" rx="1.61" ry="0.83" stroke-width="1.25" stroke-dasharray="4.18 8.03" opacity="0.37" transform="rotate(192.76 111.51 388.92)"/>
<ellipse cx="135.16" cy="369.09" rx="1.96" ry="1.71" stroke-width="1.39" stroke-dasharray="8.07 11.54" opacity="0.15" transform="rotate(331.57 135.16 369.09)"/>
<ellipse cx="124.18" cy="403.7" rx="2.89" ry="2.41" stroke-width="1.25" stroke-dasharray="10.23 16.7" opacity="0.31" transform="rotate(170.29 124.18 403.7)"/>
<ellipse cx="141.03" cy="418.99" rx="2.27" ry="2.1" stroke-width="1.24" stroke-dasharray="8.31 13.75" opacity="0.17" transform="rotate(6.55 141.03 418.99)"/>
<ellipse cx="101.35" cy="410.69" rx="2" ry="1.24" stroke-width="1.05" stroke-dasharray="4.91 10.43" opacity="0.57" transform="rotate(15.07 101.35 410.69)"/>
<ellipse cx="104.26" cy="382.27" rx="2.69" ry="1.56" stroke-width="1.13" stroke-dasharray="7.24 13.8" opacity="0.09" transform="rotate(99.49 104.26 382.27)"/>
<ellipse cx="112.53" cy="413.47" rx="2.78" ry="2.43" stroke-width="1.39" stroke-dasharray="6.89 16.42" opacity="0.13" transform="rotate(13.78 112.53 413.47)"/>
<ellipse cx="103.41" cy="397.55" rx="1.91" ry="1.6" stroke-width="0.97" stroke-dasharray="5.97 11.08" opacity="0.16" transform="rotate(258.53 103.41 397.55)"/>
<ellipse cx="107.49" cy="369.94" rx="2.37" ry="1.35" stroke-width="0.84" stroke-dasharray="8.46 12.1" opacity="0.25" transform="rotate(320.19 107.49 369.94)"/>
<ellipse cx="129.34" cy="368.45" rx="2.08" ry="1.07" stroke-width="1.24" stroke-dasharray="10.29 10.38" opacity="0.08" transform="rotate(275.86 129.34 368.45)"/>
<ellipse cx="145.05" cy="380.87" rx="2.16" ry="1.21" stroke-width="1.37" stroke-dasharray="4.46 10.99" opacity="0.44" transform="rotate(123.22 145.05 380.87)"/>
<ellipse cx="114.85" cy="407.32" rx="1.58" ry="1.36" stroke-width="1.05" stroke-dasharray="8.43 9.27" opacity="0.2" transform="rotate(321.51 114.85 407.32)"/>
<ellipse cx="123.46" cy="377.94" rx="1.74" ry="1" stroke-width="1.29" stroke-dasharray="7.95 8.93" opacity="0.18" transform="rotate(301.94 123.46 377.94)"/>
<ellipse cx="153.3" cy="378.08" rx="1.95" ry="1.74" stroke-width="1.26" stroke-dasharray="6 11.61" opacity="0.13" transform="rotate(274.21 153.3 378.08)"/>
<ellipse cx="100.72" cy="368.99" rx="1.91" ry="1.16" stroke-width="0.91" stroke-dasharray="7.28 9.91" opacity="0.57" transform="rotate(186.36 100.72 368.99)"/>
<ellipse cx="146.24" cy="404.6" rx="2.14" ry="1.81" stroke-width="1.28" stroke-dasharray="11.02 12.47" opacity="0.54" transform="rotate(7.86 146.24 404.6)"/>
<ellipse cx="143.68" cy="372.11" rx="1.41" ry="0.82" stroke-width="1.44" stroke-dasharray="4.68 7.23" opacity="0.53" transform="rotate(181.72 143.68 372.11)"/>
<ellipse cx="130.55" cy="413.79" rx="1.83" ry="1.72" stroke-width="1.43" stroke-dasharray="9.82 11.15" opacity="0.31" transform="rotate(339.04 130.55 413.79)"/>
<ellipse cx="132.48" cy="386.59" rx="1.75" ry="1.06" stroke-width="1.01" stroke-dasharray="3.77 9.1" opacity="0.51" transform="rotate(20.65 132.48 386.59)"/>
<ellipse cx="110.72" cy="372.41" rx="2.01" ry="1.31" stroke-width="1.09" stroke-dasharray="6.53 10.66" opacity="0.16" transform="rotate(63.17 110.72 372.41)"/>
<ellipse cx="142.91" cy="385.64" rx="2.17" ry="1.94" stroke-width="0.83" stroke-dasharray="12.53 12.92" opacity="0.12" transform="rotate(345.26 142.91 385.64)"/>
<ellipse cx="123.54" cy="379.84" rx="1.51" ry="0.91" stroke-width="0.83" stroke-dasharray="7.8 7.82" opacity="0.09" transform="rotate(111.77 123.54 379.84)"/>
<ellipse cx="143.36" cy="373.07" rx="2.07" ry="1.78" stroke-width="1.04" stroke-dasharray="7.62 12.13" opacity="0.08" transform="rotate(181.62 143.36 373.07)"/>
<ellipse cx="149.46" cy="403.59" rx="2.03" ry="1.59" stroke-width="1.37" stroke-dasharray="9.22 11.48" opacity="0.28" transform="rotate(17.51 149.46 403.59)"/>
<ellipse cx="113.62" cy="384.29" rx="1.32" ry="0.71" stroke-width="1.34" stroke-dasharray="3.52 6.64" opacity="0.15" transform="rotate(55.64 113.62 384.29)"/>
<ellipse cx="120.83" cy="407.03" rx="2.31" ry="1.17" stroke-width="1.01" stroke-dasharray="6.25 11.5" opacity="0.21" transform="rotate(331.4 120.83 407.03)"/>
<ellipse cx="134.86" cy="426.33" rx="1.84" ry="1.25" stroke-width="1.08" stroke-dasharray="9.39 9.88" opacity="0.09" transform="rotate(200.56 134.86 426.33)"/>
<ellipse cx="126.28" cy="419.2" rx="1.72" ry="1.53" stroke-width="1.17" stroke-dasharray="8.28 10.23" opacity="0.09" transform="rotate(281.76 126.28 419.2)"/>
<ellipse cx="127.34" cy="404.83" rx="1.68" ry="1.26" stroke-width="1.06" stroke-dasharray="9.23 9.35" opacity="0.38" transform="rotate(127.64 127.34 404.83)"/>
<ellipse cx="127.84" cy="380.5" rx="1.97" ry="1.1" stroke-width="1.22" stroke-dasharray="5.85 10" opacity="0.08" transform="rotate(265.1 127.84 380.5)"/>
<ellipse cx="140.56" cy="373.94" rx="2.39" ry="1.96" stroke-width="1.06" stroke-dasharray="10.84 13.73" opacity="0.09" transform="rotate(83.93 140.56 373.94)"/>
<ellipse cx="107.14" cy="366.27" rx="2.01" ry="1.73" stroke-width="1.16" stroke-dasharray="5.85 11.78" opacity="0.53" transform="rotate(56.81 107.14 366.27)"/>
<ellipse cx="96.73" cy="389.8" rx="2.06" ry="1.19" stroke-width="0.98" stroke-dasharray="7.06 10.59" opacity="0.17" transform="rotate(30.28 96.73 389.8)"/>
<ellipse cx="119.44" cy="411.03" rx="2.22" ry="1.34" stroke-width="0.84" stroke-dasharray="5.47 11.54" opacity="0.44" transform="rotate(64.69 119.44 411.03)"/>
<ellipse cx="94.78" cy="419.41" rx="2.17" ry="1.98" stroke-width="1.1" stroke-dasharray="10.95 13.05" opacity="0.11" transform="rotate(225.46 94.78 419.41)"/>
<ellipse cx="105.22" cy="417.9" rx="1.95" ry="1.01" stroke-width="0.9" stroke-dasharray="9.22 9.77" opacity="0.2" transform="rotate(123.72 105.22 417.9)"/>
<ellipse cx="150.22" cy="398.94" rx="2.75" ry="2.23" stroke-width="1.47" stroke-dasharray="14.95 15.71" opacity="0.09" transform="rotate(193.69 150.22 398.94)"/>
<ellipse cx="119.52" cy="390.72" rx="1.42" ry="1.1" stroke-width="1" stroke-dasharray="6.13 7.98" opacity="0.13" transform="rotate(307.76 119.52 390.72)"/>
<ellipse cx="141.62" cy="376.73" rx="1.75" ry="1.38" stroke-width="1.02" stroke-dasharray="8.92 9.91" opacity="0.39" transform="rotate(14.88 141.62 376.73)"/>
<ellipse cx="119.7" cy="376.46" rx="1.33" ry="0.73" stroke-width="1.36" stroke-dasharray="5.26 6.75" opacity="0.34" transform="rotate(93.71 119.7 376.46)"/>
<ellipse cx="110.14" cy="408.86" rx="2.47" ry="1.64" stroke-width="0.96" stroke-dasharray="6.77 13.19" opacity="0.16" transform="rotate(29.36 110.14 408.86)"/>
<ellipse cx="115.54" cy="370.56" rx="2.74" ry="1.71" stroke-width="0.81" stroke-dasharray="13.48 14.35" opacity="0.32" transform="rotate(323.44 115.54 370.56)"/>
<ellipse cx="142.66" cy="399.85" rx="2.71" ry="1.94" stroke-width="1.02" stroke-dasharray="13.57 14.83" opacity="0.09" transform="rotate(9.05 142.66 399.85)"/>
<ellipse cx="143.96" cy="373.37" rx="1.86" ry="1.02" stroke-width="1.09" stroke-dasharray="4.62 9.43" opacity="0.12" transform="rotate(82.23 143.96 373.37)"/>
<ellipse cx="132.83" cy="381.44" rx="2.72" ry="1.95" stroke-width="1.04" stroke-dasharray="8.25 14.89" opacity="0.35" transform="rotate(154.66 132.83 381.44)"/>
<ellipse cx="98.19" cy="384.86" rx="1.68" ry="1.39" stroke-width="0.99" stroke-dasharray="4.28 9.68" opacity="0.3" transform="rotate(127.78 98.19 384.86)"/>
<ellipse cx="109.99" cy="391.22" rx="2.76" ry="1.63" stroke-width="0.98" stroke-dasharray="13.88 14.22" opacity="0.09" transform="rotate(76.19 109.99 391.22)"/>
<ellipse cx="150.59" cy="380.49" rx="1.38" ry="0.99" stroke-width="1.09" stroke-dasharray="6.5 7.55" opacity="0.09" transform="rotate(210.47 150.59 380.49)"/>
<ellipse cx="90.34" cy="412.41" rx="2.4" ry="2.05" stroke-width="1.16" stroke-dasharray="6.74 14" opacity="0.16" transform="rotate(175.27 90.34 412.41)"/>
<ellipse cx="123.52" cy="381.27" rx="1.81" ry="0.94" stroke-width="1.18" stroke-dasharray="4.92 9.08" opacity="0.08" transform="rotate(57.06 123.52 381.27)"/>
<ellipse cx="126.23" cy="398.43" rx="1.67" ry="0.93" stroke-width="1.28" stroke-dasharray="5.99 8.51" opacity="0.27" transform="rotate(214.56 126.23 398.43)"/>
<ellipse cx="127.81" cy="367.29" rx="1.79" ry="1.54" stroke-width="1.09" stroke-dasharray="9.45 10.49" opacity="0.09" transform="rotate(135.79 127.81 367.29)"/>
<ellipse cx="96.6" cy="372.97" rx="2.1" ry="1.87" stroke-width="1.34" stroke-dasharray="5.7 12.49" opacity="0.1" transform="rotate(140.55 96.6 372.97)"/>
<ellipse cx="109.38" cy="404.59" rx="2.66" ry="2.36" stroke-width="1.05" stroke-dasharray="7.47 15.8" opacity="0.1" transform="rotate(117.27 109.38 404.59)"/>
<ellipse cx="107.9" cy="415.53" rx="2.87" ry="1.78" stroke-width="1.48" stroke-dasharray="13.14 14.99" opacity="0.32" transform="rotate(26.06 107.9 415.53)"/>
<ellipse cx="116.97" cy="414.06" rx="2.52" ry="2.1" stroke-width="1.35" stroke-dasharray="7.88 14.57" opacity="0.61" transform="rotate(177.41 116.97 414.06)"/>
<ellipse cx="118.14" cy="371.49" rx="1.9" ry="1.65" stroke-width="1.35" stroke-dasharray="5.05 11.17" opacity="0.18" transform="rotate(175.05 118.14 371.49)"/>
<ellipse cx="113.15" cy="397.12" rx="2.09" ry="1.69" stroke-width="1.18" stroke-dasharray="9.68 11.94" opacity="0.38" transform="rotate(337.31 113.15 397.12)"/>
<ellipse cx="125.12" cy="429.81" rx="2.25" ry="1.73" stroke-width="1.33" stroke-dasharray="7.87 12.63" opacity="0.14" transform="rotate(142.54 125.12 429.81)"/>
<ellipse cx="148.77" cy="413.01" rx="2.83" ry="2.31" stroke-width="0.81" stroke-dasharray="12.94 16.23" opacity="0.12" transform="rotate(205.2 148.77 413.01)"/>
<ellipse cx="138.9" cy="412.71" rx="2.51" ry="1.3" stroke-width="1.07" stroke-dasharray="11.58 12.57" opacity="0.1" transform="rotate(246.27 138.9 412.71)"/>
<ellipse cx="116.47" cy="396.05" rx="1.38" ry="0.8" stroke-width="1.17" stroke-dasharray="3.04 7.1" opacity="0.09" transform="rotate(75.67 116.47 396.05)"/>
<ellipse cx="96.02" cy="371.3" rx="2.47" ry="2.32" stroke-width="0.89" stroke-dasharray="13.11 15.06" opacity="0.18" transform="rotate(270.01 96.02 371.3)"/>
<ellipse cx="98.64" cy="370.69" rx="2.12" ry="1.88" stroke-width="1.03" stroke-dasharray="12.33 12.59" opacity="0.44" transform="rotate(111.84 98.64 370.69)"/>
<ellipse cx="138.08" cy="421.92" rx="2.88" ry="2.49" stroke-width="1.18" stroke-dasharray="14.09 16.91" opacity="0.18" transform="rotate(70.64 138.08 421.92)"/>
<ellipse cx="105.12" cy="403.2" rx="1.75" ry="1.02" stroke-width="1.19" stroke-dasharray="5.53 9.02" opacity="0.38" transform="rotate(161.88 105.12 403.2)"/>
<ellipse cx="104.87" cy="389.03" rx="1.94" ry="1.21" stroke-width="1.01" stroke-dasharray="8.16 10.14" opacity="0.1" transform="rotate(111.96 104.87 389.03)"/>
<ellipse cx="130.73" cy="406.43" rx="2.78" ry="2.22" stroke-width="1.17" stroke-dasharray="13.4 15.8" opacity="0.13" transform="rotate(46.82 130.73 406.43)"/>
<ellipse cx="124.58" cy="371.74" rx="2.06" ry="1.64" stroke-width="0.95" stroke-dasharray="4.92 11.7" opacity="0.15" transform="rotate(282.69 124.58 371.74)"/>
<ellipse cx="122.82" cy="414.44" rx="1.48" ry="1.09" stroke-width="0.96" stroke-dasharray="3.71 8.14" opacity="0.2" transform="rotate(214.87 122.82 414.44)"/>
<ellipse cx="91.64" cy="385.54" rx="2.73" ry="1.88" stroke-width="1.21" stroke-dasharray="9.8 14.75" opacity="0.4" transform="rotate(355.29 91.64 385.54)"/>
</g>
<g filter="url(#blur0)" fill="#ff2a2e">
<circle cx="126.66" cy="420.29" r="0.5" opacity="0.28"/>
<circle cx="148.44" cy="406.71" r="0.52" opacity="0.38"/>
<circle cx="96.8" cy="402.57" r="0.7" opacity="0.42"/>
<circle cx="135.4" cy="413.7" r="0.5" opacity="0.48"/>
<circle cx="153.2" cy="412.21" r="0.43" opacity="0.49"/>
<circle cx="131.99" cy="416.11" r="0.67" opacity="0.59"/>
<circle cx="153.46" cy="379.32" r="0.57" opacity="0.23"/>
<circle cx="154.11" cy="372.63" r="0.54" opacity="0.47"/>
<circle cx="118.04" cy="376.85" r="0.58" opacity="0.3"/>
<circle cx="121.98" cy="412.18" r="0.48" opacity="0.4"/>
<circle cx="131.17" cy="400.27" r="0.71" opacity="0.58"/>
<circle cx="152.86" cy="376.43" r="0.57" opacity="0.26"/>
<circle cx="135.47" cy="391.45" r="0.73" opacity="0.41"/>
<circle cx="141.93" cy="367.7" r="0.63" opacity="0.38"/>
<circle cx="144.17" cy="372.41" r="0.39" opacity="0.5"/>
<circle cx="111.38" cy="393.97" r="0.53" opacity="0.62"/>
<circle cx="130.64" cy="419.82" r="0.73" opacity="0.57"/>
<circle cx="119.2" cy="384.56" r="0.58" opacity="0.59"/>
<circle cx="147.44" cy="396.78" r="0.76" opacity="0.53"/>
<circle cx="92.87" cy="406.88" r="0.71" opacity="0.23"/>
</g>
</g>
<clipPath id="mc3"><rect x="157.2" y="365.7" width="65.7" height="65"/></clipPath>
<filter id="nz3" x="0" y="0" width="100%" height="100%" color-interpolation-filters="sRGB"><feTurbulence type="fractalNoise" baseFrequency="0.19" numOctaves="3" seed="33"/><feColorMatrix values="0 0 0 0 0.72  0 0 0 0 0.07  0 0 0 0 0.09  1.6 0 0 0 -0.83"/></filter>
<rect x="157.2" y="365.7" width="65.7" height="65" fill="#1a0506"/>
<rect x="157.2" y="365.7" width="65.7" height="65" fill="#000" filter="url(#nz3)"/>
<g clip-path="url(#mc3)">
<g filter="url(#blur1)" fill="none" stroke="#d8161c">
<ellipse cx="194.67" cy="406.8" rx="2.61" ry="1.63" stroke-width="1.44" stroke-dasharray="6.99 13.66" opacity="0.27" transform="rotate(234.67 194.67 406.8)"/>
<ellipse cx="200.02" cy="405.81" rx="2.11" ry="1.97" stroke-width="1.46" stroke-dasharray="10.01 12.8" opacity="0.08" transform="rotate(190.18 200.02 405.81)"/>
<ellipse cx="177" cy="385.8" rx="2.09" ry="1.1" stroke-width="1.1" stroke-dasharray="9.53 10.5" opacity="0.18" transform="rotate(218.73 177 385.8)"/>
<ellipse cx="218.17" cy="401.81" rx="2.39" ry="1.32" stroke-width="1" stroke-dasharray="6.41 12.13" opacity="0.33" transform="rotate(20.17 218.17 401.81)"/>
<ellipse cx="216.11" cy="414.44" rx="1.5" ry="0.97" stroke-width="0.8" stroke-dasharray="5.66 7.91" opacity="0.06" transform="rotate(87.36 216.11 414.44)"/>
<ellipse cx="177.2" cy="391.32" rx="1.6" ry="0.88" stroke-width="1.32" stroke-dasharray="5.96 8.09" opacity="0.26" transform="rotate(11.85 177.2 391.32)"/>
<ellipse cx="165.34" cy="375.38" rx="1.49" ry="0.96" stroke-width="0.94" stroke-dasharray="4.06 7.88" opacity="0.06" transform="rotate(20.73 165.34 375.38)"/>
<ellipse cx="200.15" cy="395.46" rx="2.06" ry="1.36" stroke-width="1.02" stroke-dasharray="4.85 10.96" opacity="0.21" transform="rotate(194.05 200.15 395.46)"/>
<ellipse cx="188.81" cy="390.35" rx="2.55" ry="1.4" stroke-width="1.18" stroke-dasharray="8.61 12.92" opacity="0.05" transform="rotate(314.18 188.81 390.35)"/>
<ellipse cx="177.92" cy="423.48" rx="2.42" ry="1.39" stroke-width="0.82" stroke-dasharray="5.62 12.41" opacity="0.13" transform="rotate(178.18 177.92 423.48)"/>
<ellipse cx="196.73" cy="413.12" rx="2.04" ry="1.41" stroke-width="1.41" stroke-dasharray="10.76 11.01" opacity="0.06" transform="rotate(182.5 196.73 413.12)"/>
<ellipse cx="188.86" cy="367.03" rx="1.94" ry="1.67" stroke-width="0.93" stroke-dasharray="9.39 11.35" opacity="0.05" transform="rotate(116.98 188.86 367.03)"/>
<ellipse cx="198.07" cy="384.3" rx="2.3" ry="1.94" stroke-width="1.1" stroke-dasharray="11.82 13.35" opacity="0.23" transform="rotate(347.8 198.07 384.3)"/>
<ellipse cx="218" cy="422.18" rx="2.5" ry="1.91" stroke-width="1.24" stroke-dasharray="11.64 13.98" opacity="0.24" transform="rotate(184.12 218 422.18)"/>
<ellipse cx="172.17" cy="371.69" rx="1.73" ry="1.32" stroke-width="0.93" stroke-dasharray="9.39 9.68" opacity="0.05" transform="rotate(206.28 172.17 371.69)"/>
<ellipse cx="161.9" cy="425.92" rx="2.54" ry="1.92" stroke-width="0.8" stroke-dasharray="13.62 14.14" opacity="0.16" transform="rotate(358.41 161.9 425.92)"/>
<ellipse cx="184.36" cy="425.28" rx="2.6" ry="1.46" stroke-width="1.35" stroke-dasharray="11.6 13.26" opacity="0.05" transform="rotate(14.29 184.36 425.28)"/>
<ellipse cx="172.18" cy="373.03" rx="1.89" ry="1.62" stroke-width="1.48" stroke-dasharray="9.43 11.05" opacity="0.26" transform="rotate(266.68 172.18 373.03)"/>
<ellipse cx="212.1" cy="366.76" rx="1.31" ry="1.16" stroke-width="0.89" stroke-dasharray="4.67 7.79" opacity="0.06" transform="rotate(222.74 212.1 366.76)"/>
<ellipse cx="179.48" cy="397.92" rx="2.02" ry="1.19" stroke-width="0.89" stroke-dasharray="4.8 10.42" opacity="0.05" transform="rotate(29.54 179.48 397.92)"/>
<ellipse cx="184.43" cy="374.16" rx="2.58" ry="1.92" stroke-width="0.96" stroke-dasharray="5.92 14.3" opacity="0.14" transform="rotate(165.63 184.43 374.16)"/>
<ellipse cx="162.37" cy="387.62" rx="1.88" ry="1.15" stroke-width="0.81" stroke-dasharray="6.55 9.79" opacity="0.23" transform="rotate(110.32 162.37 387.62)"/>
<ellipse cx="182.36" cy="384.03" rx="2.46" ry="1.48" stroke-width="1.48" stroke-dasharray="7.75 12.75" opacity="0.05" transform="rotate(15.22 182.36 384.03)"/>
<ellipse cx="164.89" cy="428.81" rx="2.33" ry="2.17" stroke-width="0.83" stroke-dasharray="7.68 14.15" opacity="0.22" transform="rotate(119.29 164.89 428.81)"/>
<ellipse cx="209.41" cy="399.24" rx="2.56" ry="1.73" stroke-width="1.24" stroke-dasharray="7.05 13.73" opacity="0.05" transform="rotate(315.49 209.41 399.24)"/>
<ellipse cx="170.3" cy="423.1" rx="1.99" ry="1.72" stroke-width="1.44" stroke-dasharray="9.07 11.68" opacity="0.18" transform="rotate(102.23 170.3 423.1)"/>
<ellipse cx="172.61" cy="409.14" rx="2.82" ry="2.43" stroke-width="0.87" stroke-dasharray="14.24 16.54" opacity="0.08" transform="rotate(159.82 172.61 409.14)"/>
<ellipse cx="167.6" cy="379.9" rx="1.35" ry="0.78" stroke-width="0.92" stroke-dasharray="4.54 6.93" opacity="0.09" transform="rotate(138.15 167.6 379.9)"/>
<ellipse cx="207.01" cy="372" rx="1.52" ry="1.11" stroke-width="1.2" stroke-dasharray="3.8 8.36" opacity="0.29" transform="rotate(325.41 207.01 372)"/>
<ellipse cx="214.61" cy="430.23" rx="2.74" ry="2.02" stroke-width="1.35" stroke-dasharray="15.08 15.13" opacity="0.12" transform="rotate(137.75 214.61 430.23)"/>
<ellipse cx="189.63" cy="398.63" rx="1.8" ry="1.34" stroke-width="1.12" stroke-dasharray="9.44 9.95" opacity="0.06" transform="rotate(195.72 189.63 398.63)"/>
<ellipse cx="172.7" cy="382.2" rx="1.79" ry="1.58" stroke-width="1.45" stroke-dasharray="9.82 10.61" opacity="0.23" transform="rotate(109.17 172.7 382.2)"/>
<ellipse cx="210.05" cy="378.36" rx="2.02" ry="1.76" stroke-width="1.41" stroke-dasharray="11.43 11.9" opacity="0.13" transform="rotate(88.5 210.05 378.36)"/>
<ellipse cx="180.24" cy="373.45" rx="1.35" ry="0.87" stroke-width="1.38" stroke-dasharray="5.63 7.13" opacity="0.06" transform="rotate(196.97 180.24 373.45)"/>
<ellipse cx="198.01" cy="419.45" rx="1.83" ry="1.45" stroke-width="0.88" stroke-dasharray="9.04 10.35" opacity="0.06" transform="rotate(126.29 198.01 419.45)"/>
<ellipse cx="216.35" cy="367.72" rx="2.45" ry="1.29" stroke-width="1.43" stroke-dasharray="8.11 12.29" opacity="0.06" transform="rotate(150.34 216.35 367.72)"/>
<ellipse cx="190.76" cy="388.84" rx="1.71" ry="1.04" stroke-width="1.19" stroke-dasharray="7.49 8.88" opacity="0.05" transform="rotate(22.43 190.76 388.84)"/>
<ellipse cx="201.25" cy="382.55" rx="2.88" ry="1.54" stroke-width="0.93" stroke-dasharray="14.18 14.52" opacity="0.07" transform="rotate(155.4 201.25 382.55)"/>
<ellipse cx="204.19" cy="374.24" rx="1.58" ry="1.37" stroke-width="1.01" stroke-dasharray="5.53 9.3" opacity="0.06" transform="rotate(134.11 204.19 374.24)"/>
<ellipse cx="195.89" cy="385.96" rx="2.25" ry="1.19" stroke-width="1.02" stroke-dasharray="10.39 11.29" opacity="0.12" transform="rotate(192.69 195.89 385.96)"/>
<ellipse cx="218.18" cy="408.41" rx="1.96" ry="1.13" stroke-width="0.92" stroke-dasharray="7.22 10.04" opacity="0.06" transform="rotate(225.22 218.18 408.41)"/>
<ellipse cx="170.35" cy="407.25" rx="2.52" ry="1.27" stroke-width="1.04" stroke-dasharray="10.44 12.52" opacity="0.05" transform="rotate(227.73 170.35 407.25)"/>
<ellipse cx="220.62" cy="386.11" rx="2.51" ry="1.64" stroke-width="1.27" stroke-dasharray="5.99 13.32" opacity="0.05" transform="rotate(338.62 220.62 386.11)"/>
<ellipse cx="193.99" cy="414" rx="2.76" ry="2.33" stroke-width="1.24" stroke-dasharray="12.67 16.06" opacity="0.08" transform="rotate(197.86 193.99 414)"/>
<ellipse cx="197.36" cy="412.11" rx="2.49" ry="2.3" stroke-width="1.32" stroke-dasharray="9.46 15.06" opacity="0.26" transform="rotate(223.43 197.36 412.11)"/>
<ellipse cx="209.92" cy="389.44" rx="2.63" ry="2.35" stroke-width="1.28" stroke-dasharray="10.95 15.66" opacity="0.28" transform="rotate(322.85 209.92 389.44)"/>
<ellipse cx="176.16" cy="407.24" rx="2.73" ry="1.8" stroke-width="1.44" stroke-dasharray="7.61 14.53" opacity="0.19" transform="rotate(75.76 176.16 407.24)"/>
<ellipse cx="166.34" cy="373" rx="2.18" ry="1.91" stroke-width="0.83" stroke-dasharray="6.77 12.88" opacity="0.21" transform="rotate(89.15 166.34 373)"/>
<ellipse cx="193.12" cy="414.97" rx="2.09" ry="1.69" stroke-width="1.16" stroke-dasharray="4.79 11.95" opacity="0.07" transform="rotate(129.44 193.12 414.97)"/>
<ellipse cx="170.37" cy="388.51" rx="2.35" ry="1.38" stroke-width="1.26" stroke-dasharray="7.83 12.12" opacity="0.34" transform="rotate(87.69 170.37 388.51)"/>
<ellipse cx="208.65" cy="412.17" rx="2.61" ry="1.96" stroke-width="1.1" stroke-dasharray="9.21 14.49" opacity="0.05" transform="rotate(221.22 208.65 412.17)"/>
<ellipse cx="174.02" cy="389.42" rx="2.72" ry="1.63" stroke-width="0.92" stroke-dasharray="5.83 14.08" opacity="0.07" transform="rotate(40.95 174.02 389.42)"/>
<ellipse cx="217.18" cy="401.3" rx="1.34" ry="0.99" stroke-width="1.46" stroke-dasharray="7.32 7.42" opacity="0.09" transform="rotate(62.69 217.18 401.3)"/>
<ellipse cx="183.32" cy="416.57" rx="2.09" ry="1.12" stroke-width="1.34" stroke-dasharray="8.78 10.53" opacity="0.22" transform="rotate(144.16 183.32 416.57)"/>
<ellipse cx="222.1" cy="390.43" rx="2.42" ry="2.1" stroke-width="1.41" stroke-dasharray="8.62 14.26" opacity="0.26" transform="rotate(332.77 222.1 390.43)"/>
<ellipse cx="182.03" cy="405.92" rx="1.49" ry="0.95" stroke-width="0.93" stroke-dasharray="6.23 7.86" opacity="0.05" transform="rotate(133.52 182.03 405.92)"/>
<ellipse cx="177.54" cy="369.42" rx="2.58" ry="2.39" stroke-width="0.86" stroke-dasharray="8.31 15.6" opacity="0.16" transform="rotate(80.57 177.54 369.42)"/>
<ellipse cx="168" cy="407.41" rx="2.19" ry="1.91" stroke-width="1.41" stroke-dasharray="9.69 12.92" opacity="0.19" transform="rotate(237.47 168 407.41)"/>
<ellipse cx="172.01" cy="376.27" rx="2.67" ry="2.32" stroke-width="1.37" stroke-dasharray="10.09 15.72" opacity="0.31" transform="rotate(232.45 172.01 376.27)"/>
<ellipse cx="169.41" cy="393.43" rx="2.77" ry="2.49" stroke-width="1.11" stroke-dasharray="15.65 16.54" opacity="0.05" transform="rotate(2.22 169.41 393.43)"/>
</g>
<g filter="url(#blur0)" fill="#ff2a2e">
<circle cx="214.93" cy="420.07" r="0.38" opacity="0.17"/>
<circle cx="208.05" cy="394.33" r="0.49" opacity="0.35"/>
<circle cx="158.37" cy="397.32" r="0.75" opacity="0.29"/>
<circle cx="215.56" cy="383.39" r="0.6" opacity="0.35"/>
<circle cx="165.9" cy="393.66" r="0.8" opacity="0.16"/>
<circle cx="208.03" cy="414.38" r="0.47" opacity="0.36"/>
<circle cx="208.49" cy="374.28" r="0.8" opacity="0.33"/>
<circle cx="188.7" cy="367.6" r="0.7" opacity="0.26"/>
<circle cx="206.1" cy="370.87" r="0.57" opacity="0.31"/>
<circle cx="205.06" cy="376.96" r="0.5" opacity="0.23"/>
<circle cx="187.37" cy="430.02" r="0.77" opacity="0.12"/>
<circle cx="197.81" cy="374.64" r="0.74" opacity="0.25"/>
<circle cx="216.18" cy="424.79" r="0.77" opacity="0.16"/>
<circle cx="161.42" cy="415.95" r="0.56" opacity="0.31"/>
<circle cx="186.26" cy="392.66" r="0.68" opacity="0.21"/>
</g>
</g>
<text x="206.4" y="424.19" font-size="7.8" text-anchor="middle" fill="#fff" style="stroke:#fff">40 µm</text>
<line x1="196.5" y1="427" x2="216.5" y2="427" stroke="#fff" stroke-width="1.1"/>
<rect x="106.4" y="485.4" width="12.8" height="36.35" fill="#ffffff" stroke="#111" stroke-width="0.8"/>
<rect x="125.3" y="471.2" width="12.4" height="50.55" fill="#f5b57e" stroke="#111" stroke-width="0.8"/>
<rect x="143.7" y="482.1" width="12.1" height="39.65" fill="#4c90ea" stroke="#111" stroke-width="0.8"/>
<line x1="112.9" y1="479.3" x2="112.9" y2="490.5" stroke="#111" stroke-width="0.7"/>
<line x1="110" y1="479.3" x2="115.8" y2="479.3" stroke="#111" stroke-width="0.7"/>
<line x1="110" y1="490.5" x2="115.8" y2="490.5" stroke="#111" stroke-width="0.7"/>
<line x1="131.3" y1="462.2" x2="131.3" y2="480.4" stroke="#111" stroke-width="0.7"/>
<line x1="128.6" y1="462.2" x2="134" y2="462.2" stroke="#111" stroke-width="0.7"/>
<line x1="128.6" y1="480.4" x2="134" y2="480.4" stroke="#111" stroke-width="0.7"/>
<line x1="149.7" y1="476.6" x2="149.7" y2="487.1" stroke="#111" stroke-width="0.7"/>
<line x1="146.8" y1="476.6" x2="152.6" y2="476.6" stroke="#111" stroke-width="0.7"/>
<line x1="146.8" y1="487.1" x2="152.6" y2="487.1" stroke="#111" stroke-width="0.7"/>
<circle cx="112.8" cy="474.6" r="1.05" fill="#000"/>
<circle cx="108.5" cy="486.2" r="1.05" fill="#000"/>
<circle cx="110.7" cy="484.8" r="1.05" fill="#000"/>
<circle cx="112.9" cy="486.4" r="1.05" fill="#000"/>
<circle cx="115.2" cy="484.8" r="1.05" fill="#000"/>
<circle cx="117.2" cy="486.4" r="1.05" fill="#000"/>
<circle cx="112.2" cy="489.5" r="1.05" fill="#000"/>
<circle cx="113.2" cy="492.5" r="1.05" fill="#000"/>
<circle cx="131.1" cy="455.9" r="1.05" fill="#000"/>
<circle cx="131.1" cy="464.5" r="1.05" fill="#000"/>
<circle cx="132.7" cy="467.9" r="1.05" fill="#000"/>
<circle cx="130.3" cy="469.9" r="1.05" fill="#000"/>
<circle cx="131.1" cy="473.4" r="1.05" fill="#000"/>
<circle cx="132" cy="475.3" r="1.05" fill="#000"/>
<circle cx="130" cy="479" r="1.05" fill="#000"/>
<circle cx="132.4" cy="480" r="1.05" fill="#000"/>
<circle cx="149.5" cy="476.3" r="1.05" fill="#000"/>
<circle cx="153.1" cy="478.1" r="1.05" fill="#000"/>
<circle cx="145.9" cy="480.4" r="1.05" fill="#000"/>
<circle cx="148.2" cy="483.3" r="1.05" fill="#000"/>
<circle cx="151.5" cy="484.1" r="1.05" fill="#000"/>
<circle cx="148.2" cy="487.1" r="1.05" fill="#000"/>
<circle cx="151.3" cy="487.4" r="1.05" fill="#000"/>
<line x1="103.25" y1="448.2" x2="103.25" y2="522.15" stroke="#111" stroke-width="0.8"/>
<line x1="102.9" y1="521.75" x2="158.8" y2="521.75" stroke="#111" stroke-width="0.8"/>
<line x1="101.2" y1="521.75" x2="103.25" y2="521.75" stroke="#111" stroke-width="0.7"/>
<text x="100.8" y="524.36" font-size="7.3" text-anchor="end">0.0</text>
<line x1="101.2" y1="503.38" x2="103.25" y2="503.38" stroke="#111" stroke-width="0.7"/>
<text x="100.8" y="505.99" font-size="7.3" text-anchor="end">0.5</text>
<line x1="101.2" y1="485" x2="103.25" y2="485" stroke="#111" stroke-width="0.7"/>
<text x="100.8" y="487.61" font-size="7.3" text-anchor="end">1.0</text>
<line x1="101.2" y1="466.62" x2="103.25" y2="466.62" stroke="#111" stroke-width="0.7"/>
<text x="100.8" y="469.24" font-size="7.3" text-anchor="end">1.5</text>
<line x1="101.2" y1="448.25" x2="103.25" y2="448.25" stroke="#111" stroke-width="0.7"/>
<text x="100.8" y="450.86" font-size="7.3" text-anchor="end">2.0</text>
<line x1="112.9" y1="521.75" x2="112.9" y2="523.75" stroke="#111" stroke-width="0.7"/>
<line x1="131.3" y1="521.75" x2="131.3" y2="523.75" stroke="#111" stroke-width="0.7"/>
<line x1="149.7" y1="521.75" x2="149.7" y2="523.75" stroke="#111" stroke-width="0.7"/>
<text x="77.32" y="483" font-size="7.6" text-anchor="middle" transform="rotate(-90 77.32 483)">Relative MitoSOX intensity</text>
<text x="86.22" y="483" font-size="7.6" text-anchor="middle" transform="rotate(-90 86.22 483)">(Compared to Ad-GFP)</text>
<path d="M112.2 453.1V451.4H130.8V453.1" fill="none" stroke="#111" stroke-width="0.6"/>
<path d="M131.6 453.1V451.4H149.6V453.1" fill="none" stroke="#111" stroke-width="0.6"/>
<text x="121.3" y="448.71" font-size="5.9" text-anchor="middle">0.0008</text>
<text x="140.8" y="448.71" font-size="5.9" text-anchor="middle">0.0042</text>
<text x="99.3" y="534.76" font-size="7.7" text-anchor="end">BafA1</text>
<text x="112.9" y="535.36" font-size="7.7" text-anchor="middle">-</text>
<text x="131.3" y="535.06" font-size="7.7" text-anchor="middle">+</text>
<text x="149.7" y="535.06" font-size="7.7" text-anchor="middle">+</text>
<text x="99.3" y="543.36" font-size="7.7" text-anchor="end">Ad-GFP</text>
<text x="112.9" y="543.66" font-size="7.7" text-anchor="middle">+</text>
<text x="131.3" y="543.66" font-size="7.7" text-anchor="middle">+</text>
<text x="149.7" y="543.96" font-size="7.7" text-anchor="middle">-</text>
<text x="99.3" y="552.76" font-size="7.7" text-anchor="end">Ad-TFEB</text>
<text x="112.9" y="553.36" font-size="7.7" text-anchor="middle">-</text>
<text x="131.3" y="553.36" font-size="7.7" text-anchor="middle">-</text>
<text x="149.7" y="553.06" font-size="7.7" text-anchor="middle">+</text>
</g>
<g id="panelD">
<defs><filter id="bb1" x="-10%" y="-10%" width="120%" height="120%"><feGaussianBlur stdDeviation="1.0 0.9"/></filter><filter id="bb2" x="-10%" y="-10%" width="120%" height="120%"><feGaussianBlur stdDeviation="1.8"/></filter></defs>
<text x="276" y="330.6" font-size="14.2" font-weight="bold">D</text>
<text x="361" y="347.02" font-size="10.1" text-anchor="middle">Ad-GFP</text>
<text x="448.5" y="347.02" font-size="10.1" text-anchor="middle">Ad-TFEB</text>
<line x1="317" y1="349.3" x2="398.8" y2="349.3" stroke="#111" stroke-width="0.9"/>
<line x1="408" y1="349.3" x2="489.5" y2="349.3" stroke="#111" stroke-width="0.9"/>
<text x="305.1" y="361.29" font-size="10.3" text-anchor="end">CQ</text>
<text x="305.2" y="376.29" font-size="10.3" text-anchor="end">BafA1</text>
<line x1="320.3" y1="360.1" x2="323.3" y2="360.1" stroke="#111" stroke-width="0.95"/>
<line x1="320.3" y1="373.4" x2="323.3" y2="373.4" stroke="#111" stroke-width="0.95"/>
<line x1="335.5" y1="360.24" x2="338.5" y2="360.24" stroke="#111" stroke-width="0.95"/>
<line x1="335.5" y1="373.46" x2="338.5" y2="373.46" stroke="#111" stroke-width="0.95"/>
<line x1="349.9" y1="359.57" x2="355.1" y2="359.57" stroke="#111" stroke-width="0.95"/>
<line x1="352.5" y1="356.97" x2="352.5" y2="362.17" stroke="#111" stroke-width="0.95"/>
<line x1="351" y1="373.53" x2="354" y2="373.53" stroke="#111" stroke-width="0.95"/>
<line x1="363.3" y1="359.71" x2="368.5" y2="359.71" stroke="#111" stroke-width="0.95"/>
<line x1="365.9" y1="357.11" x2="365.9" y2="362.31" stroke="#111" stroke-width="0.95"/>
<line x1="364.4" y1="373.59" x2="367.4" y2="373.59" stroke="#111" stroke-width="0.95"/>
<line x1="380.1" y1="360.65" x2="383.1" y2="360.65" stroke="#111" stroke-width="0.95"/>
<line x1="379" y1="372.85" x2="384.2" y2="372.85" stroke="#111" stroke-width="0.95"/>
<line x1="381.6" y1="370.25" x2="381.6" y2="375.45" stroke="#111" stroke-width="0.95"/>
<line x1="395.3" y1="360.78" x2="398.3" y2="360.78" stroke="#111" stroke-width="0.95"/>
<line x1="394.2" y1="372.92" x2="399.4" y2="372.92" stroke="#111" stroke-width="0.95"/>
<line x1="396.8" y1="370.32" x2="396.8" y2="375.52" stroke="#111" stroke-width="0.95"/>
<line x1="409.3" y1="360.92" x2="412.3" y2="360.92" stroke="#111" stroke-width="0.95"/>
<line x1="409.3" y1="373.78" x2="412.3" y2="373.78" stroke="#111" stroke-width="0.95"/>
<line x1="424.7" y1="361.05" x2="427.7" y2="361.05" stroke="#111" stroke-width="0.95"/>
<line x1="424.7" y1="373.85" x2="427.7" y2="373.85" stroke="#111" stroke-width="0.95"/>
<line x1="438.7" y1="360.39" x2="443.9" y2="360.39" stroke="#111" stroke-width="0.95"/>
<line x1="441.3" y1="357.79" x2="441.3" y2="362.99" stroke="#111" stroke-width="0.95"/>
<line x1="439.8" y1="373.91" x2="442.8" y2="373.91" stroke="#111" stroke-width="0.95"/>
<line x1="453.7" y1="360.53" x2="458.9" y2="360.53" stroke="#111" stroke-width="0.95"/>
<line x1="456.3" y1="357.93" x2="456.3" y2="363.13" stroke="#111" stroke-width="0.95"/>
<line x1="454.8" y1="373.97" x2="457.8" y2="373.97" stroke="#111" stroke-width="0.95"/>
<line x1="469.3" y1="361.46" x2="472.3" y2="361.46" stroke="#111" stroke-width="0.95"/>
<line x1="468.2" y1="373.24" x2="473.4" y2="373.24" stroke="#111" stroke-width="0.95"/>
<line x1="470.8" y1="370.64" x2="470.8" y2="375.84" stroke="#111" stroke-width="0.95"/>
<line x1="484.3" y1="361.6" x2="487.3" y2="361.6" stroke="#111" stroke-width="0.95"/>
<line x1="483.2" y1="373.3" x2="488.4" y2="373.3" stroke="#111" stroke-width="0.95"/>
<line x1="485.8" y1="370.7" x2="485.8" y2="375.9" stroke="#111" stroke-width="0.95"/>
<text x="500.4" y="374.52" font-size="10.1">(kD)</text>
<text x="305.1" y="396.99" font-size="10.3" text-anchor="end">eNOS dimer</text>
<text x="305.1" y="412.49" font-size="10.3" text-anchor="end">eNOS monomer</text>
<text x="305.1" y="444.99" font-size="10.3" text-anchor="end">TFEB</text>
<text x="305.1" y="471.69" font-size="10.3" text-anchor="end">P62</text>
<text x="305.1" y="494.99" font-size="10.3" text-anchor="end">LC3-I</text>
<text x="305.1" y="506.99" font-size="10.3" text-anchor="end">LC3-II</text>
<text x="305.1" y="526.69" font-size="10.3" text-anchor="end">GAPDH</text>
<text x="501.6" y="396.92" font-size="10.1">260</text>
<text x="501.6" y="417.92" font-size="10.1">130</text>
<text x="501.6" y="445.42" font-size="10.1">70</text>
<text x="501.6" y="473.62" font-size="10.1">62</text>
<text x="501.6" y="496.12" font-size="10.1">16</text>
<text x="501.6" y="508.62" font-size="10.1">14</text>
<text x="501.6" y="525.42" font-size="10.1">37</text>
<clipPath id="bc1"><rect x="309.2" y="380.9" width="188.6" height="45.5"/></clipPath>
<rect x="309.2" y="380.9" width="188.6" height="45.5" fill="#e7e7e7"/>
<g clip-path="url(#bc1)">
<g filter="url(#bb2)">
<rect x="404" y="375.9" width="99.8" height="55.5" fill="#000" opacity="0.04"/>
<rect x="315.4" y="375.9" width="10.4" height="55.5" fill="#000" opacity="0.04"/>
<rect x="330.4" y="375.9" width="10.4" height="55.5" fill="#000" opacity="0.04"/>
<rect x="345.4" y="375.9" width="10.4" height="55.5" fill="#000" opacity="0.04"/>
<rect x="360.4" y="375.9" width="10.4" height="55.5" fill="#000" opacity="0.04"/>
<rect x="375.4" y="375.9" width="10.4" height="55.5" fill="#000" opacity="0.04"/>
<rect x="390.4" y="375.9" width="10.4" height="55.5" fill="#000" opacity="0.04"/>
<rect x="405.4" y="375.9" width="10.4" height="55.5" fill="#000" opacity="0.07"/>
<rect x="420.4" y="375.9" width="10.4" height="55.5" fill="#000" opacity="0.07"/>
<rect x="435.4" y="375.9" width="10.4" height="55.5" fill="#000" opacity="0.07"/>
<rect x="450.4" y="375.9" width="10.4" height="55.5" fill="#000" opacity="0.07"/>
<rect x="465.4" y="375.9" width="10.4" height="55.5" fill="#000" opacity="0.07"/>
<rect x="480.4" y="375.9" width="10.4" height="55.5" fill="#000" opacity="0.07"/>
</g>
<g filter="url(#bb1)" fill="#000">
<rect x="314.3" y="391.35" width="12.6" height="3.9" rx="1.6" opacity="1"/>
<rect x="314.4" y="411.3" width="12.4" height="3.4" rx="1.6" opacity="0.55"/>
<rect x="329.3" y="391.45" width="12.6" height="4.3" rx="1.6" opacity="1"/>
<rect x="329.4" y="411.7" width="12.4" height="3.4" rx="1.6" opacity="0.62"/>
<rect x="344.3" y="392.45" width="12.6" height="3.1" rx="1.55" opacity="0.8"/>
<rect x="344.4" y="411.9" width="12.4" height="3.4" rx="1.6" opacity="0.6"/>
<rect x="359.3" y="391.95" width="12.6" height="3.3" rx="1.6" opacity="0.85"/>
<rect x="359.4" y="411.9" width="12.4" height="3.4" rx="1.6" opacity="0.65"/>
<rect x="374.3" y="391.35" width="12.6" height="2.9" rx="1.45" opacity="0.75"/>
<rect x="374.4" y="411.7" width="12.4" height="3.4" rx="1.6" opacity="0.62"/>
<rect x="389.3" y="391.65" width="12.6" height="3.1" rx="1.55" opacity="0.8"/>
<rect x="389.4" y="411.1" width="12.4" height="3.4" rx="1.6" opacity="0.62"/>
<rect x="404.3" y="391.65" width="12.6" height="4.3" rx="1.6" opacity="1"/>
<rect x="404.4" y="411.3" width="12.4" height="3.4" rx="1.6" opacity="0.92"/>
<rect x="419.3" y="391.75" width="12.6" height="4.1" rx="1.6" opacity="1"/>
<rect x="419.4" y="411.7" width="12.4" height="3.4" rx="1.6" opacity="0.88"/>
<rect x="434.3" y="392.35" width="12.6" height="4.1" rx="1.6" opacity="1"/>
<rect x="434.4" y="412.3" width="12.4" height="3.4" rx="1.6" opacity="0.97"/>
<rect x="449.3" y="392.75" width="12.6" height="4.1" rx="1.6" opacity="1"/>
<rect x="449.4" y="412.5" width="12.4" height="3.4" rx="1.6" opacity="0.8"/>
<rect x="464.3" y="392.85" width="12.6" height="3.9" rx="1.6" opacity="1" transform="rotate(-3 470.6 394.8)"/>
<rect x="464.4" y="412.1" width="12.4" height="3.4" rx="1.6" opacity="0.9" transform="rotate(-4 470.6 413.8)"/>
<rect x="479.3" y="392.05" width="12.6" height="3.5" rx="1.6" opacity="0.92" transform="rotate(-3 485.6 393.8)"/>
<rect x="479.4" y="411.7" width="12.4" height="3.4" rx="1.6" opacity="0.75" transform="rotate(-4 485.6 413.4)"/>
<rect x="405.2" y="396" width="10.8" height="16" rx="1.6" opacity="0.07"/>
<rect x="420.2" y="396" width="10.8" height="16" rx="1.6" opacity="0.07"/>
<rect x="435.2" y="396" width="10.8" height="16" rx="1.6" opacity="0.07"/>
<rect x="450.2" y="396" width="10.8" height="16" rx="1.6" opacity="0.07"/>
<rect x="465.2" y="396" width="10.8" height="16" rx="1.6" opacity="0.07"/>
<rect x="480.2" y="396" width="10.8" height="16" rx="1.6" opacity="0.07"/>
</g>
</g>
<clipPath id="bc2"><rect x="309.2" y="429.8" width="188.6" height="20.4"/></clipPath>
<rect x="309.2" y="429.8" width="188.6" height="20.4" fill="#dadada"/>
<g clip-path="url(#bc2)">
<g filter="url(#bb2)">
<rect x="404" y="424.8" width="99.8" height="30.4" fill="#000" opacity="0.06"/>
<rect x="315.4" y="424.8" width="10.4" height="30.4" fill="#000" opacity="0.1"/>
<rect x="330.4" y="424.8" width="10.4" height="30.4" fill="#000" opacity="0.1"/>
<rect x="345.4" y="424.8" width="10.4" height="30.4" fill="#000" opacity="0.1"/>
<rect x="360.4" y="424.8" width="10.4" height="30.4" fill="#000" opacity="0.1"/>
<rect x="375.4" y="424.8" width="10.4" height="30.4" fill="#000" opacity="0.1"/>
<rect x="390.4" y="424.8" width="10.4" height="30.4" fill="#000" opacity="0.1"/>
<rect x="405.4" y="424.8" width="10.4" height="30.4" fill="#000" opacity="0.2"/>
<rect x="420.4" y="424.8" width="10.4" height="30.4" fill="#000" opacity="0.2"/>
<rect x="435.4" y="424.8" width="10.4" height="30.4" fill="#000" opacity="0.2"/>
<rect x="450.4" y="424.8" width="10.4" height="30.4" fill="#000" opacity="0.2"/>
<rect x="465.4" y="424.8" width="10.4" height="30.4" fill="#000" opacity="0.2"/>
<rect x="480.4" y="424.8" width="10.4" height="30.4" fill="#000" opacity="0.2"/>
</g>
<g filter="url(#bb1)" fill="#000">
<rect x="315" y="434.3" width="11.2" height="2.4" rx="1.2" opacity="0.12"/>
<rect x="315" y="441.4" width="11.2" height="1.8" rx="0.9" opacity="0.32"/>
<rect x="330" y="434.3" width="11.2" height="2.4" rx="1.2" opacity="0.12"/>
<rect x="330" y="441.4" width="11.2" height="1.8" rx="0.9" opacity="0.32"/>
<rect x="345" y="434.3" width="11.2" height="2.4" rx="1.2" opacity="0.12"/>
<rect x="345" y="441.4" width="11.2" height="1.8" rx="0.9" opacity="0.32"/>
<rect x="360" y="434.3" width="11.2" height="2.4" rx="1.2" opacity="0.12"/>
<rect x="360" y="441.4" width="11.2" height="1.8" rx="0.9" opacity="0.32"/>
<rect x="375" y="434.3" width="11.2" height="2.4" rx="1.2" opacity="0.12"/>
<rect x="375" y="441.4" width="11.2" height="1.8" rx="0.9" opacity="0.32"/>
<rect x="390" y="434.3" width="11.2" height="2.4" rx="1.2" opacity="0.12"/>
<rect x="390" y="441.4" width="11.2" height="1.8" rx="0.9" opacity="0.32"/>
<rect x="404.8" y="433.3" width="11.6" height="7" rx="1.6" opacity="0.4"/>
<rect x="404.6" y="440" width="12" height="3.6" rx="1.6" opacity="0.92"/>
<rect x="419.8" y="433.3" width="11.6" height="7" rx="1.6" opacity="0.4"/>
<rect x="419.6" y="440" width="12" height="3.6" rx="1.6" opacity="0.8"/>
<rect x="434.8" y="433.3" width="11.6" height="7" rx="1.6" opacity="0.4"/>
<rect x="434.6" y="440" width="12" height="3.6" rx="1.6" opacity="0.85"/>
<rect x="449.8" y="433.3" width="11.6" height="7" rx="1.6" opacity="0.4"/>
<rect x="449.6" y="440" width="12" height="3.6" rx="1.6" opacity="0.88"/>
<rect x="464.8" y="433.3" width="11.6" height="7" rx="1.6" opacity="0.4"/>
<rect x="464.6" y="440" width="12" height="3.6" rx="1.6" opacity="0.95"/>
<rect x="479.8" y="433.3" width="11.6" height="7" rx="1.6" opacity="0.4"/>
<rect x="479.6" y="440" width="12" height="3.6" rx="1.6" opacity="0.8"/>
</g>
</g>
<clipPath id="bc3"><rect x="309.2" y="453.4" width="188.6" height="27.8"/></clipPath>
<rect x="309.2" y="453.4" width="188.6" height="27.8" fill="#e9e9e9"/>
<g clip-path="url(#bc3)">
<g filter="url(#bb2)">
<rect x="315.4" y="448.4" width="10.4" height="37.8" fill="#000" opacity="0.03"/>
<rect x="330.4" y="448.4" width="10.4" height="37.8" fill="#000" opacity="0.03"/>
<rect x="345.4" y="448.4" width="10.4" height="37.8" fill="#000" opacity="0.03"/>
<rect x="360.4" y="448.4" width="10.4" height="37.8" fill="#000" opacity="0.03"/>
<rect x="375.4" y="448.4" width="10.4" height="37.8" fill="#000" opacity="0.03"/>
<rect x="390.4" y="448.4" width="10.4" height="37.8" fill="#000" opacity="0.03"/>
<rect x="405.4" y="448.4" width="10.4" height="37.8" fill="#000" opacity="0.03"/>
<rect x="420.4" y="448.4" width="10.4" height="37.8" fill="#000" opacity="0.03"/>
<rect x="435.4" y="448.4" width="10.4" height="37.8" fill="#000" opacity="0.03"/>
<rect x="450.4" y="448.4" width="10.4" height="37.8" fill="#000" opacity="0.03"/>
<rect x="465.4" y="448.4" width="10.4" height="37.8" fill="#000" opacity="0.03"/>
<rect x="480.4" y="448.4" width="10.4" height="37.8" fill="#000" opacity="0.03"/>
</g>
<g filter="url(#bb1)" fill="#000">
<rect x="315.4" y="466.2" width="10.4" height="2" rx="1" opacity="0.45" transform="rotate(-5 320.6 467.2)"/>
<rect x="330.4" y="465.6" width="10.4" height="2" rx="1" opacity="0.5" transform="rotate(-5 335.6 466.6)"/>
<rect x="344.8" y="464.25" width="11.6" height="2.7" rx="1.35" opacity="0.88" transform="rotate(-5 350.6 465.6)"/>
<rect x="360" y="464.35" width="11.2" height="2.5" rx="1.25" opacity="0.85"/>
<rect x="373.8" y="462.3" width="13.6" height="4" rx="1.6" opacity="1"/>
<rect x="388.8" y="462.8" width="13.6" height="3.6" rx="1.6" opacity="1" transform="rotate(6 395.6 464.6)"/>
<rect x="405.8" y="465.7" width="9.6" height="1.8" rx="0.9" opacity="0.3"/>
<rect x="420.8" y="466.3" width="9.6" height="1.8" rx="0.9" opacity="0.3"/>
<rect x="434.8" y="466.45" width="11.6" height="2.7" rx="1.35" opacity="0.82"/>
<rect x="450" y="467.25" width="11.2" height="2.7" rx="1.35" opacity="0.8"/>
<rect x="463.2" y="466.4" width="14.8" height="4.8" rx="1.6" opacity="1"/>
<rect x="478.4" y="467.8" width="14.4" height="5" rx="1.6" opacity="1" transform="rotate(6 485.6 470.3)"/>
</g>
</g>
<clipPath id="bc4"><rect x="309.2" y="483.8" width="188.6" height="25.7"/></clipPath>
<rect x="309.2" y="483.8" width="188.6" height="25.7" fill="#e8e8e8"/>
<g clip-path="url(#bc4)">
<g filter="url(#bb2)">
<rect x="404" y="478.8" width="99.8" height="35.7" fill="#000" opacity="0.03"/>
<rect x="315.4" y="478.8" width="10.4" height="35.7" fill="#000" opacity="0.04"/>
<rect x="330.4" y="478.8" width="10.4" height="35.7" fill="#000" opacity="0.04"/>
<rect x="345.4" y="478.8" width="10.4" height="35.7" fill="#000" opacity="0.04"/>
<rect x="360.4" y="478.8" width="10.4" height="35.7" fill="#000" opacity="0.04"/>
<rect x="375.4" y="478.8" width="10.4" height="35.7" fill="#000" opacity="0.04"/>
<rect x="390.4" y="478.8" width="10.4" height="35.7" fill="#000" opacity="0.04"/>
<rect x="405.4" y="478.8" width="10.4" height="35.7" fill="#000" opacity="0.07"/>
<rect x="420.4" y="478.8" width="10.4" height="35.7" fill="#000" opacity="0.07"/>
<rect x="435.4" y="478.8" width="10.4" height="35.7" fill="#000" opacity="0.07"/>
<rect x="450.4" y="478.8" width="10.4" height="35.7" fill="#000" opacity="0.07"/>
<rect x="465.4" y="478.8" width="10.4" height="35.7" fill="#000" opacity="0.07"/>
<rect x="480.4" y="478.8" width="10.4" height="35.7" fill="#000" opacity="0.07"/>
</g>
<g filter="url(#bb1)" fill="#000">
<rect x="314.6" y="489.85" width="12" height="2.9" rx="1.45" opacity="0.8"/>
<rect x="314.6" y="495.45" width="12" height="2.7" rx="1.35" opacity="0.55"/>
<rect x="329.6" y="489.75" width="12" height="2.9" rx="1.45" opacity="0.75"/>
<rect x="329.6" y="495.25" width="12" height="2.7" rx="1.35" opacity="0.42"/>
<rect x="344.6" y="489.55" width="12" height="2.9" rx="1.45" opacity="0.88"/>
<rect x="344.6" y="495.05" width="12" height="2.7" rx="1.35" opacity="0.92"/>
<rect x="359.6" y="489.75" width="12" height="2.9" rx="1.45" opacity="0.85"/>
<rect x="359.6" y="495.25" width="12" height="2.7" rx="1.35" opacity="0.9"/>
<rect x="374.6" y="489.55" width="12" height="2.9" rx="1.45" opacity="0.92"/>
<rect x="374.6" y="495.05" width="12" height="2.7" rx="1.35" opacity="0.97"/>
<rect x="389.6" y="489.55" width="12" height="2.9" rx="1.45" opacity="0.92"/>
<rect x="389.6" y="495.25" width="12" height="2.7" rx="1.35" opacity="0.95"/>
<rect x="404.6" y="489.8" width="12" height="3.6" rx="1.6" opacity="1"/>
<rect x="404.6" y="495.45" width="12" height="2.7" rx="1.35" opacity="0.72"/>
<rect x="419.6" y="489.4" width="12" height="3.6" rx="1.6" opacity="1"/>
<rect x="419.6" y="495.25" width="12" height="2.7" rx="1.35" opacity="0.68"/>
<rect x="434.6" y="489.6" width="12" height="3.6" rx="1.6" opacity="1"/>
<rect x="434.6" y="495.1" width="12" height="3.8" rx="1.6" opacity="1"/>
<rect x="449.6" y="489.8" width="12" height="3.6" rx="1.6" opacity="1"/>
<rect x="449.6" y="495.5" width="12" height="3.8" rx="1.6" opacity="1" transform="rotate(7 455.6 497.4)"/>
<rect x="464.6" y="490.2" width="12" height="3.6" rx="1.6" opacity="1" transform="rotate(5 470.6 492)"/>
<rect x="464.6" y="496.3" width="12" height="3.8" rx="1.6" opacity="1" transform="rotate(7 470.6 498.2)"/>
<rect x="479.6" y="490.8" width="12" height="3.6" rx="1.6" opacity="1" transform="rotate(5 485.6 492.6)"/>
<rect x="479.6" y="497.7" width="12" height="3.8" rx="1.6" opacity="1" transform="rotate(7 485.6 499.6)"/>
</g>
</g>
<clipPath id="bc5"><rect x="309.2" y="512" width="188.6" height="21.8"/></clipPath>
<rect x="309.2" y="512" width="188.6" height="21.8" fill="#e0e0e0"/>
<g clip-path="url(#bc5)">
<g filter="url(#bb2)">
<rect x="315.4" y="507" width="10.4" height="31.8" fill="#000" opacity="0.06"/>
<rect x="330.4" y="507" width="10.4" height="31.8" fill="#000" opacity="0.06"/>
<rect x="345.4" y="507" width="10.4" height="31.8" fill="#000" opacity="0.06"/>
<rect x="360.4" y="507" width="10.4" height="31.8" fill="#000" opacity="0.06"/>
<rect x="375.4" y="507" width="10.4" height="31.8" fill="#000" opacity="0.06"/>
<rect x="390.4" y="507" width="10.4" height="31.8" fill="#000" opacity="0.06"/>
<rect x="405.4" y="507" width="10.4" height="31.8" fill="#000" opacity="0.09"/>
<rect x="420.4" y="507" width="10.4" height="31.8" fill="#000" opacity="0.09"/>
<rect x="435.4" y="507" width="10.4" height="31.8" fill="#000" opacity="0.09"/>
<rect x="450.4" y="507" width="10.4" height="31.8" fill="#000" opacity="0.09"/>
<rect x="465.4" y="507" width="10.4" height="31.8" fill="#000" opacity="0.09"/>
<rect x="480.4" y="507" width="10.4" height="31.8" fill="#000" opacity="0.09"/>
</g>
<g filter="url(#bb1)" fill="#000">
<rect x="314.6" y="521.9" width="12" height="2.6" rx="1.3" opacity="0.85"/>
<rect x="329.6" y="521.7" width="12" height="2.6" rx="1.3" opacity="1"/>
<rect x="344.6" y="521.7" width="12" height="2.6" rx="1.3" opacity="1"/>
<rect x="359.6" y="521.9" width="12" height="2.6" rx="1.3" opacity="1"/>
<rect x="374.6" y="521.7" width="12" height="2.6" rx="1.3" opacity="1"/>
<rect x="389.6" y="521.7" width="12" height="2.6" rx="1.3" opacity="1"/>
<rect x="404.6" y="521.9" width="12" height="2.6" rx="1.3" opacity="1"/>
<rect x="419.6" y="521.7" width="12" height="2.6" rx="1.3" opacity="1"/>
<rect x="434.6" y="521.7" width="12" height="2.6" rx="1.3" opacity="1"/>
<rect x="449.6" y="521.9" width="12" height="2.6" rx="1.3" opacity="1"/>
<rect x="464.6" y="521.7" width="12" height="2.6" rx="1.3" opacity="1"/>
<rect x="479.6" y="521.7" width="12" height="2.6" rx="1.3" opacity="0.85"/>
</g>
</g>
</g>
<g id="panelE">
<text x="-0.3" y="577" font-size="14.5" font-weight="bold">E</text>
<rect x="37.6" y="642.8" width="9.5" height="50.2" fill="#e4e4e4" stroke="#111" stroke-width="0.8"/>
<rect x="52" y="650.6" width="9.5" height="42.4" fill="#e4e4e4" stroke="#111" stroke-width="0.8"/>
<rect x="66.3" y="658.4" width="9.5" height="34.6" fill="#e4e4e4" stroke="#111" stroke-width="0.8"/>
<rect x="80.8" y="644.6" width="9.5" height="48.4" fill="#f5b57e" stroke="#111" stroke-width="0.8"/>
<rect x="95.3" y="648.5" width="9.5" height="44.5" fill="#f5b57e" stroke="#111" stroke-width="0.8"/>
<rect x="109.6" y="649.8" width="9.6" height="43.2" fill="#f5b57e" stroke="#111" stroke-width="0.8"/>
<line x1="42.35" y1="641.6" x2="42.35" y2="644" stroke="#111" stroke-width="0.6"/>
<line x1="40.05" y1="641.6" x2="44.65" y2="641.6" stroke="#111" stroke-width="0.6"/>
<line x1="40.05" y1="644" x2="44.65" y2="644" stroke="#111" stroke-width="0.6"/>
<line x1="56.75" y1="642.8" x2="56.75" y2="658.4" stroke="#111" stroke-width="0.6"/>
<line x1="54.45" y1="642.8" x2="59.05" y2="642.8" stroke="#111" stroke-width="0.6"/>
<line x1="54.45" y1="658.4" x2="59.05" y2="658.4" stroke="#111" stroke-width="0.6"/>
<line x1="71.05" y1="654.3" x2="71.05" y2="662.8" stroke="#111" stroke-width="0.6"/>
<line x1="68.75" y1="654.3" x2="73.35" y2="654.3" stroke="#111" stroke-width="0.6"/>
<line x1="68.75" y1="662.8" x2="73.35" y2="662.8" stroke="#111" stroke-width="0.6"/>
<line x1="85.55" y1="640.5" x2="85.55" y2="648.6" stroke="#111" stroke-width="0.6"/>
<line x1="83.25" y1="640.5" x2="87.85" y2="640.5" stroke="#111" stroke-width="0.6"/>
<line x1="83.25" y1="648.6" x2="87.85" y2="648.6" stroke="#111" stroke-width="0.6"/>
<line x1="100.05" y1="641.5" x2="100.05" y2="655.3" stroke="#111" stroke-width="0.6"/>
<line x1="97.75" y1="641.5" x2="102.35" y2="641.5" stroke="#111" stroke-width="0.6"/>
<line x1="97.75" y1="655.3" x2="102.35" y2="655.3" stroke="#111" stroke-width="0.6"/>
<line x1="114.4" y1="643.3" x2="114.4" y2="654" stroke="#111" stroke-width="0.6"/>
<line x1="112.1" y1="643.3" x2="116.7" y2="643.3" stroke="#111" stroke-width="0.6"/>
<line x1="112.1" y1="654" x2="116.7" y2="654" stroke="#111" stroke-width="0.6"/>
<circle cx="39.3" cy="641.6" r="1.1" fill="#000"/>
<circle cx="40.4" cy="642.6" r="1.1" fill="#000"/>
<circle cx="41.6" cy="640.8" r="1.1" fill="#000"/>
<circle cx="42.6" cy="642.4" r="1.1" fill="#000"/>
<circle cx="43.6" cy="641.2" r="1.1" fill="#000"/>
<circle cx="44.6" cy="642.8" r="1.1" fill="#000"/>
<circle cx="45.5" cy="642.2" r="1.1" fill="#000"/>
<circle cx="41" cy="643.2" r="1.1" fill="#000"/>
<circle cx="56.7" cy="637.8" r="1.1" fill="#000"/>
<circle cx="57" cy="642.4" r="1.1" fill="#000"/>
<circle cx="56.7" cy="646.9" r="1.1" fill="#000"/>
<circle cx="53.4" cy="651.1" r="1.1" fill="#000"/>
<circle cx="57.4" cy="652.4" r="1.1" fill="#000"/>
<circle cx="60.2" cy="652.4" r="1.1" fill="#000"/>
<circle cx="55.2" cy="657.9" r="1.1" fill="#000"/>
<circle cx="58.3" cy="662.1" r="1.1" fill="#000"/>
<circle cx="69.3" cy="652.4" r="1.1" fill="#000"/>
<circle cx="73" cy="652.8" r="1.1" fill="#000"/>
<circle cx="70.6" cy="656.1" r="1.1" fill="#000"/>
<circle cx="67.5" cy="658.8" r="1.1" fill="#000"/>
<circle cx="73.9" cy="658.3" r="1.1" fill="#000"/>
<circle cx="69.9" cy="662.5" r="1.1" fill="#000"/>
<circle cx="73.9" cy="662.1" r="1.1" fill="#000"/>
<circle cx="71.1" cy="666.1" r="1.1" fill="#000"/>
<path d="M85.4 637.8L86.83 640.42L83.98 640.42Z" fill="none" stroke="#000" stroke-width="0.6"/>
<path d="M88.1 639.6L89.52 642.23L86.67 642.23Z" fill="none" stroke="#000" stroke-width="0.6"/>
<path d="M83 642.3L84.42 644.92L81.58 644.92Z" fill="none" stroke="#000" stroke-width="0.6"/>
<path d="M86.7 642.7L88.12 645.33L85.28 645.33Z" fill="none" stroke="#000" stroke-width="0.6"/>
<path d="M88.9 641.4L90.33 644.02L87.48 644.02Z" fill="none" stroke="#000" stroke-width="0.6"/>
<path d="M84.8 645.4L86.22 648.02L83.38 648.02Z" fill="none" stroke="#000" stroke-width="0.6"/>
<path d="M87 646.9L88.42 649.52L85.58 649.52Z" fill="none" stroke="#000" stroke-width="0.6"/>
<path d="M84.3 643.6L85.72 646.23L82.88 646.23Z" fill="none" stroke="#000" stroke-width="0.6"/>
<path d="M99.1 635.9L100.52 638.52L97.67 638.52Z" fill="none" stroke="#000" stroke-width="0.6"/>
<path d="M99.5 640.9L100.92 643.52L98.08 643.52Z" fill="none" stroke="#000" stroke-width="0.6"/>
<path d="M97.3 648.2L98.72 650.83L95.88 650.83Z" fill="none" stroke="#000" stroke-width="0.6"/>
<path d="M101.3 649.1L102.72 651.73L99.88 651.73Z" fill="none" stroke="#000" stroke-width="0.6"/>
<path d="M103.1 651.8L104.52 654.42L101.67 654.42Z" fill="none" stroke="#000" stroke-width="0.6"/>
<path d="M98 650.9L99.42 653.52L96.58 653.52Z" fill="none" stroke="#000" stroke-width="0.6"/>
<path d="M100.4 652.8L101.83 655.42L98.98 655.42Z" fill="none" stroke="#000" stroke-width="0.6"/>
<path d="M99.8 656.8L101.22 659.42L98.38 659.42Z" fill="none" stroke="#000" stroke-width="0.6"/>
<path d="M114.5 639.6L115.92 642.23L113.08 642.23Z" fill="none" stroke="#000" stroke-width="0.6"/>
<path d="M114.5 644L115.92 646.62L113.08 646.62Z" fill="none" stroke="#000" stroke-width="0.6"/>
<path d="M111.4 649.1L112.83 651.73L109.98 651.73Z" fill="none" stroke="#000" stroke-width="0.6"/>
<path d="M113.2 650.9L114.62 653.52L111.78 653.52Z" fill="none" stroke="#000" stroke-width="0.6"/>
<path d="M115.9 651.3L117.33 653.92L114.48 653.92Z" fill="none" stroke="#000" stroke-width="0.6"/>
<path d="M117.8 652.4L119.22 655.02L116.38 655.02Z" fill="none" stroke="#000" stroke-width="0.6"/>
<path d="M112.3 651.8L113.72 654.42L110.88 654.42Z" fill="none" stroke="#000" stroke-width="0.6"/>
<path d="M116.8 650L118.22 652.62L115.38 652.62Z" fill="none" stroke="#000" stroke-width="0.6"/>
<line x1="35" y1="616.2" x2="35" y2="693.4" stroke="#111" stroke-width="0.8"/>
<line x1="34.6" y1="693" x2="121.8" y2="693" stroke="#111" stroke-width="0.8"/>
<line x1="32.8" y1="693" x2="35" y2="693" stroke="#111" stroke-width="0.7"/>
<text x="32.4" y="695.79" font-size="7.8" text-anchor="end">0.0</text>
<line x1="32.8" y1="667.5" x2="35" y2="667.5" stroke="#111" stroke-width="0.7"/>
<text x="32.4" y="670.29" font-size="7.8" text-anchor="end">0.5</text>
<line x1="32.8" y1="642" x2="35" y2="642" stroke="#111" stroke-width="0.7"/>
<text x="32.4" y="644.79" font-size="7.8" text-anchor="end">1.0</text>
<line x1="32.8" y1="616.3" x2="35" y2="616.3" stroke="#111" stroke-width="0.7"/>
<text x="32.4" y="619.09" font-size="7.8" text-anchor="end">1.5</text>
<line x1="42.35" y1="693" x2="42.35" y2="695" stroke="#111" stroke-width="0.7"/>
<line x1="41.15" y1="702.2" x2="43.55" y2="702.2" stroke="#111" stroke-width="0.7"/>
<line x1="41.15" y1="711.6" x2="43.55" y2="711.6" stroke="#111" stroke-width="0.7"/>
<line x1="56.75" y1="693" x2="56.75" y2="695" stroke="#111" stroke-width="0.7"/>
<line x1="54.65" y1="701.6" x2="58.85" y2="701.6" stroke="#111" stroke-width="0.7"/>
<line x1="56.75" y1="699.5" x2="56.75" y2="703.7" stroke="#111" stroke-width="0.7"/>
<line x1="55.55" y1="711.6" x2="57.95" y2="711.6" stroke="#111" stroke-width="0.7"/>
<line x1="71.05" y1="693" x2="71.05" y2="695" stroke="#111" stroke-width="0.7"/>
<line x1="69.85" y1="702.2" x2="72.25" y2="702.2" stroke="#111" stroke-width="0.7"/>
<line x1="68.95" y1="711" x2="73.15" y2="711" stroke="#111" stroke-width="0.7"/>
<line x1="71.05" y1="708.9" x2="71.05" y2="713.1" stroke="#111" stroke-width="0.7"/>
<line x1="85.55" y1="693" x2="85.55" y2="695" stroke="#111" stroke-width="0.7"/>
<line x1="84.35" y1="702.2" x2="86.75" y2="702.2" stroke="#111" stroke-width="0.7"/>
<line x1="84.35" y1="711.6" x2="86.75" y2="711.6" stroke="#111" stroke-width="0.7"/>
<line x1="100.05" y1="693" x2="100.05" y2="695" stroke="#111" stroke-width="0.7"/>
<line x1="97.95" y1="701.6" x2="102.15" y2="701.6" stroke="#111" stroke-width="0.7"/>
<line x1="100.05" y1="699.5" x2="100.05" y2="703.7" stroke="#111" stroke-width="0.7"/>
<line x1="98.85" y1="711.6" x2="101.25" y2="711.6" stroke="#111" stroke-width="0.7"/>
<line x1="114.4" y1="693" x2="114.4" y2="695" stroke="#111" stroke-width="0.7"/>
<line x1="113.2" y1="702.2" x2="115.6" y2="702.2" stroke="#111" stroke-width="0.7"/>
<line x1="112.3" y1="711" x2="116.5" y2="711" stroke="#111" stroke-width="0.7"/>
<line x1="114.4" y1="708.9" x2="114.4" y2="713.1" stroke="#111" stroke-width="0.7"/>
<text x="35.5" y="704.24" font-size="8.2" text-anchor="end">CQ</text>
<text x="35.5" y="713.74" font-size="8.2" text-anchor="end">BafA1</text>
<text x="8.45" y="652.5" font-size="7.95" text-anchor="middle" transform="rotate(-90 8.45 652.5)">Relative eNOS dimer</text>
<text x="18.15" y="652.3" font-size="7.95" text-anchor="middle" transform="rotate(-90 18.15 652.3)">(Normalized by monomer)</text>
<path d="M42 636.1V634.5H56.5V636.1" fill="none" stroke="#111" stroke-width="0.6"/>
<text x="48.9" y="633.06" font-size="6.3" text-anchor="middle">0.0340</text>
<path d="M42 627.9V626.3H71.2V627.9" fill="none" stroke="#111" stroke-width="0.6"/>
<text x="58" y="624.86" font-size="6.3" text-anchor="middle">&lt;0.0001</text>
<path d="M42 619.1V617.5H86.7V619.1" fill="none" stroke="#111" stroke-width="0.6"/>
<text x="63.3" y="616.06" font-size="6.3" text-anchor="middle">0.9580</text>
<path d="M55.5 610.4V608.8H100V610.4" fill="none" stroke="#111" stroke-width="0.6"/>
<text x="76.3" y="607.36" font-size="6.3" text-anchor="middle">0.9813</text>
<path d="M72 602.1V600.5H116.8V602.1" fill="none" stroke="#111" stroke-width="0.6"/>
<text x="95.5" y="599.06" font-size="6.3" text-anchor="middle">0.0333</text>
<rect x="35" y="581.3" width="10.7" height="5.7" fill="#e4e4e4" stroke="#111" stroke-width="0.7"/>
<text x="48.7" y="586.88" font-size="7.2">Ad-GFP</text>
<rect x="81.8" y="581.3" width="10.7" height="5.7" fill="#f5b57e" stroke="#111" stroke-width="0.7"/>
<text x="94.5" y="586.88" font-size="7.2">Ad-TFEB</text>
<rect x="167.6" y="654.9" width="9.5" height="38.1" fill="#e4e4e4" stroke="#111" stroke-width="0.8"/>
<rect x="182" y="667.7" width="9.5" height="25.3" fill="#e4e4e4" stroke="#111" stroke-width="0.8"/>
<rect x="196.3" y="667.5" width="9.5" height="25.5" fill="#e4e4e4" stroke="#111" stroke-width="0.8"/>
<rect x="210.8" y="637.5" width="9.5" height="55.5" fill="#f5b57e" stroke="#111" stroke-width="0.8"/>
<rect x="225.3" y="643.3" width="9.5" height="49.7" fill="#f5b57e" stroke="#111" stroke-width="0.8"/>
<rect x="239.6" y="657.9" width="9.6" height="35.1" fill="#f5b57e" stroke="#111" stroke-width="0.8"/>
<line x1="172.35" y1="651.1" x2="172.35" y2="658.4" stroke="#111" stroke-width="0.6"/>
<line x1="170.05" y1="651.1" x2="174.65" y2="651.1" stroke="#111" stroke-width="0.6"/>
<line x1="170.05" y1="658.4" x2="174.65" y2="658.4" stroke="#111" stroke-width="0.6"/>
<line x1="186.75" y1="663.4" x2="186.75" y2="673.1" stroke="#111" stroke-width="0.6"/>
<line x1="184.45" y1="663.4" x2="189.05" y2="663.4" stroke="#111" stroke-width="0.6"/>
<line x1="184.45" y1="673.1" x2="189.05" y2="673.1" stroke="#111" stroke-width="0.6"/>
<line x1="201.05" y1="663" x2="201.05" y2="672.2" stroke="#111" stroke-width="0.6"/>
<line x1="198.75" y1="663" x2="203.35" y2="663" stroke="#111" stroke-width="0.6"/>
<line x1="198.75" y1="672.2" x2="203.35" y2="672.2" stroke="#111" stroke-width="0.6"/>
<line x1="215.55" y1="627.4" x2="215.55" y2="648.4" stroke="#111" stroke-width="0.6"/>
<line x1="213.25" y1="627.4" x2="217.85" y2="627.4" stroke="#111" stroke-width="0.6"/>
<line x1="213.25" y1="648.4" x2="217.85" y2="648.4" stroke="#111" stroke-width="0.6"/>
<line x1="230.05" y1="629.2" x2="230.05" y2="657.2" stroke="#111" stroke-width="0.6"/>
<line x1="227.75" y1="629.2" x2="232.35" y2="629.2" stroke="#111" stroke-width="0.6"/>
<line x1="227.75" y1="657.2" x2="232.35" y2="657.2" stroke="#111" stroke-width="0.6"/>
<line x1="244.4" y1="650.2" x2="244.4" y2="665.8" stroke="#111" stroke-width="0.6"/>
<line x1="242.1" y1="650.2" x2="246.7" y2="650.2" stroke="#111" stroke-width="0.6"/>
<line x1="242.1" y1="665.8" x2="246.7" y2="665.8" stroke="#111" stroke-width="0.6"/>
<circle cx="171" cy="649.9" r="1.1" fill="#000"/>
<circle cx="174.3" cy="650.6" r="1.1" fill="#000"/>
<circle cx="169.1" cy="653" r="1.1" fill="#000"/>
<circle cx="172.8" cy="653.5" r="1.1" fill="#000"/>
<circle cx="176.1" cy="653.9" r="1.1" fill="#000"/>
<circle cx="170.6" cy="656.6" r="1.1" fill="#000"/>
<circle cx="174.3" cy="657.2" r="1.1" fill="#000"/>
<circle cx="171.9" cy="659.4" r="1.1" fill="#000"/>
<circle cx="175.5" cy="659" r="1.1" fill="#000"/>
<circle cx="187.8" cy="663" r="1.1" fill="#000"/>
<circle cx="184.7" cy="665.2" r="1.1" fill="#000"/>
<circle cx="189.3" cy="665.8" r="1.1" fill="#000"/>
<circle cx="183.4" cy="667.6" r="1.1" fill="#000"/>
<circle cx="187" cy="668.5" r="1.1" fill="#000"/>
<circle cx="190.7" cy="669.4" r="1.1" fill="#000"/>
<circle cx="185.6" cy="671.2" r="1.1" fill="#000"/>
<circle cx="187" cy="679.8" r="1.1" fill="#000"/>
<circle cx="201.7" cy="660.3" r="1.1" fill="#000"/>
<circle cx="203.9" cy="663" r="1.1" fill="#000"/>
<circle cx="198.8" cy="664.8" r="1.1" fill="#000"/>
<circle cx="201.1" cy="666.3" r="1.1" fill="#000"/>
<circle cx="204.8" cy="668.1" r="1.1" fill="#000"/>
<circle cx="198" cy="668.9" r="1.1" fill="#000"/>
<circle cx="200.2" cy="673.1" r="1.1" fill="#000"/>
<circle cx="203.5" cy="674" r="1.1" fill="#000"/>
<path d="M215.8 621.7L217.23 624.33L214.38 624.33Z" fill="none" stroke="#000" stroke-width="0.6"/>
<path d="M215.8 626.8L217.23 629.42L214.38 629.42Z" fill="none" stroke="#000" stroke-width="0.6"/>
<path d="M213.4 631.9L214.83 634.52L211.97 634.52Z" fill="none" stroke="#000" stroke-width="0.6"/>
<path d="M218.5 630.8L219.93 633.42L217.07 633.42Z" fill="none" stroke="#000" stroke-width="0.6"/>
<path d="M215.8 636.8L217.23 639.42L214.38 639.42Z" fill="none" stroke="#000" stroke-width="0.6"/>
<path d="M215.8 641.4L217.23 644.02L214.38 644.02Z" fill="none" stroke="#000" stroke-width="0.6"/>
<path d="M215.8 646.9L217.23 649.52L214.38 649.52Z" fill="none" stroke="#000" stroke-width="0.6"/>
<path d="M215.8 652.7L217.23 655.33L214.38 655.33Z" fill="none" stroke="#000" stroke-width="0.6"/>
<path d="M227.6 622.8L229.03 625.42L226.17 625.42Z" fill="none" stroke="#000" stroke-width="0.6"/>
<path d="M232.6 623.1L234.03 625.73L231.17 625.73Z" fill="none" stroke="#000" stroke-width="0.6"/>
<path d="M227.3 645.1L228.73 647.73L225.88 647.73Z" fill="none" stroke="#000" stroke-width="0.6"/>
<path d="M232.8 646.5L234.23 649.12L231.38 649.12Z" fill="none" stroke="#000" stroke-width="0.6"/>
<path d="M230.4 650.9L231.83 653.52L228.97 653.52Z" fill="none" stroke="#000" stroke-width="0.6"/>
<path d="M230.4 655.1L231.83 657.73L228.97 657.73Z" fill="none" stroke="#000" stroke-width="0.6"/>
<path d="M230.4 659.7L231.83 662.33L228.97 662.33Z" fill="none" stroke="#000" stroke-width="0.6"/>
<path d="M230 635.9L231.43 638.52L228.57 638.52Z" fill="none" stroke="#000" stroke-width="0.6"/>
<path d="M244.6 641.4L246.03 644.02L243.17 644.02Z" fill="none" stroke="#000" stroke-width="0.6"/>
<path d="M244.6 653.3L246.03 655.92L243.17 655.92Z" fill="none" stroke="#000" stroke-width="0.6"/>
<path d="M242.3 657.5L243.73 660.12L240.88 660.12Z" fill="none" stroke="#000" stroke-width="0.6"/>
<path d="M246.8 657.9L248.23 660.52L245.38 660.52Z" fill="none" stroke="#000" stroke-width="0.6"/>
<path d="M248.3 660.1L249.73 662.73L246.88 662.73Z" fill="none" stroke="#000" stroke-width="0.6"/>
<path d="M243.2 662.4L244.62 665.02L241.77 665.02Z" fill="none" stroke="#000" stroke-width="0.6"/>
<path d="M245.9 664.3L247.33 666.92L244.47 666.92Z" fill="none" stroke="#000" stroke-width="0.6"/>
<path d="M244.1 659.7L245.53 662.33L242.67 662.33Z" fill="none" stroke="#000" stroke-width="0.6"/>
<line x1="165" y1="616.2" x2="165" y2="693.4" stroke="#111" stroke-width="0.8"/>
<line x1="164.6" y1="693" x2="251.8" y2="693" stroke="#111" stroke-width="0.8"/>
<line x1="162.8" y1="693" x2="165" y2="693" stroke="#111" stroke-width="0.7"/>
<text x="162.4" y="695.79" font-size="7.8" text-anchor="end">0.0</text>
<line x1="162.8" y1="674.3" x2="165" y2="674.3" stroke="#111" stroke-width="0.7"/>
<text x="162.4" y="677.09" font-size="7.8" text-anchor="end">0.5</text>
<line x1="162.8" y1="655" x2="165" y2="655" stroke="#111" stroke-width="0.7"/>
<text x="162.4" y="657.79" font-size="7.8" text-anchor="end">1.0</text>
<line x1="162.8" y1="635.8" x2="165" y2="635.8" stroke="#111" stroke-width="0.7"/>
<text x="162.4" y="638.59" font-size="7.8" text-anchor="end">1.5</text>
<line x1="162.8" y1="616.3" x2="165" y2="616.3" stroke="#111" stroke-width="0.7"/>
<text x="162.4" y="619.09" font-size="7.8" text-anchor="end">2.0</text>
<line x1="172.35" y1="693" x2="172.35" y2="695" stroke="#111" stroke-width="0.7"/>
<line x1="171.15" y1="702.2" x2="173.55" y2="702.2" stroke="#111" stroke-width="0.7"/>
<line x1="171.15" y1="711.6" x2="173.55" y2="711.6" stroke="#111" stroke-width="0.7"/>
<line x1="186.75" y1="693" x2="186.75" y2="695" stroke="#111" stroke-width="0.7"/>
<line x1="184.65" y1="701.6" x2="188.85" y2="701.6" stroke="#111" stroke-width="0.7"/>
<line x1="186.75" y1="699.5" x2="186.75" y2="703.7" stroke="#111" stroke-width="0.7"/>
<line x1="185.55" y1="711.6" x2="187.95" y2="711.6" stroke="#111" stroke-width="0.7"/>
<line x1="201.05" y1="693" x2="201.05" y2="695" stroke="#111" stroke-width="0.7"/>
<line x1="199.85" y1="702.2" x2="202.25" y2="702.2" stroke="#111" stroke-width="0.7"/>
<line x1="198.95" y1="711" x2="203.15" y2="711" stroke="#111" stroke-width="0.7"/>
<line x1="201.05" y1="708.9" x2="201.05" y2="713.1" stroke="#111" stroke-width="0.7"/>
<line x1="215.55" y1="693" x2="215.55" y2="695" stroke="#111" stroke-width="0.7"/>
<line x1="214.35" y1="702.2" x2="216.75" y2="702.2" stroke="#111" stroke-width="0.7"/>
<line x1="214.35" y1="711.6" x2="216.75" y2="711.6" stroke="#111" stroke-width="0.7"/>
<line x1="230.05" y1="693" x2="230.05" y2="695" stroke="#111" stroke-width="0.7"/>
<line x1="227.95" y1="701.6" x2="232.15" y2="701.6" stroke="#111" stroke-width="0.7"/>
<line x1="230.05" y1="699.5" x2="230.05" y2="703.7" stroke="#111" stroke-width="0.7"/>
<line x1="228.85" y1="711.6" x2="231.25" y2="711.6" stroke="#111" stroke-width="0.7"/>
<line x1="244.4" y1="693" x2="244.4" y2="695" stroke="#111" stroke-width="0.7"/>
<line x1="243.2" y1="702.2" x2="245.6" y2="702.2" stroke="#111" stroke-width="0.7"/>
<line x1="242.3" y1="711" x2="246.5" y2="711" stroke="#111" stroke-width="0.7"/>
<line x1="244.4" y1="708.9" x2="244.4" y2="713.1" stroke="#111" stroke-width="0.7"/>
<text x="165.5" y="704.24" font-size="8.2" text-anchor="end">CQ</text>
<text x="165.5" y="713.74" font-size="8.2" text-anchor="end">BafA1</text>
<text x="138.45" y="652.5" font-size="7.95" text-anchor="middle" transform="rotate(-90 138.45 652.5)">Relative eNOS dimer</text>
<text x="148.85" y="652.3" font-size="7.95" text-anchor="middle" transform="rotate(-90 148.85 652.3)">(Normalized by GAPDH)</text>
<path d="M172 644.1V642.5H186.5V644.1" fill="none" stroke="#111" stroke-width="0.6"/>
<text x="179" y="641.06" font-size="6.3" text-anchor="middle">0.0383</text>
<path d="M172 636.1V634.5H201V636.1" fill="none" stroke="#111" stroke-width="0.6"/>
<text x="186.3" y="633.06" font-size="6.3" text-anchor="middle">0.0425</text>
<path d="M172 620.9V619.3H216.8V620.9" fill="none" stroke="#111" stroke-width="0.6"/>
<text x="193" y="617.86" font-size="6.3" text-anchor="middle">0.0024</text>
<path d="M185.5 611.6V610H230V611.6" fill="none" stroke="#111" stroke-width="0.6"/>
<text x="207" y="608.56" font-size="6.3" text-anchor="middle">&lt;0.0001</text>
<path d="M202 602.1V600.5H246.8V602.1" fill="none" stroke="#111" stroke-width="0.6"/>
<text x="225.5" y="599.06" font-size="6.3" text-anchor="middle">0.2217</text>
<rect x="165" y="581.3" width="10.7" height="5.7" fill="#e4e4e4" stroke="#111" stroke-width="0.7"/>
<text x="178.7" y="586.88" font-size="7.2">Ad-GFP</text>
<rect x="211.8" y="581.3" width="10.7" height="5.7" fill="#f5b57e" stroke="#111" stroke-width="0.7"/>
<text x="224.5" y="586.88" font-size="7.2">Ad-TFEB</text>
<rect x="297" y="686.9" width="9.5" height="6.1" fill="#e4e4e4" stroke="#111" stroke-width="0.8"/>
<rect x="311.4" y="677.3" width="9.5" height="15.7" fill="#e4e4e4" stroke="#111" stroke-width="0.8"/>
<rect x="325.7" y="662.1" width="9.5" height="30.9" fill="#e4e4e4" stroke="#111" stroke-width="0.8"/>
<rect x="340.2" y="682.8" width="9.5" height="10.2" fill="#f5b57e" stroke="#111" stroke-width="0.8"/>
<rect x="354.7" y="673.4" width="9.5" height="19.6" fill="#f5b57e" stroke="#111" stroke-width="0.8"/>
<rect x="369" y="651.7" width="9.6" height="41.3" fill="#f5b57e" stroke="#111" stroke-width="0.8"/>
<line x1="301.75" y1="686.2" x2="301.75" y2="687.8" stroke="#111" stroke-width="0.6"/>
<line x1="299.45" y1="686.2" x2="304.05" y2="686.2" stroke="#111" stroke-width="0.6"/>
<line x1="299.45" y1="687.8" x2="304.05" y2="687.8" stroke="#111" stroke-width="0.6"/>
<line x1="316.15" y1="672.2" x2="316.15" y2="681.7" stroke="#111" stroke-width="0.6"/>
<line x1="313.85" y1="672.2" x2="318.45" y2="672.2" stroke="#111" stroke-width="0.6"/>
<line x1="313.85" y1="681.7" x2="318.45" y2="681.7" stroke="#111" stroke-width="0.6"/>
<line x1="330.45" y1="656.6" x2="330.45" y2="667" stroke="#111" stroke-width="0.6"/>
<line x1="328.15" y1="656.6" x2="332.75" y2="656.6" stroke="#111" stroke-width="0.6"/>
<line x1="328.15" y1="667" x2="332.75" y2="667" stroke="#111" stroke-width="0.6"/>
<line x1="344.95" y1="679.1" x2="344.95" y2="686.8" stroke="#111" stroke-width="0.6"/>
<line x1="342.65" y1="679.1" x2="347.25" y2="679.1" stroke="#111" stroke-width="0.6"/>
<line x1="342.65" y1="686.8" x2="347.25" y2="686.8" stroke="#111" stroke-width="0.6"/>
<line x1="359.45" y1="667" x2="359.45" y2="680.4" stroke="#111" stroke-width="0.6"/>
<line x1="357.15" y1="667" x2="361.75" y2="667" stroke="#111" stroke-width="0.6"/>
<line x1="357.15" y1="680.4" x2="361.75" y2="680.4" stroke="#111" stroke-width="0.6"/>
<line x1="373.8" y1="637.4" x2="373.8" y2="664.8" stroke="#111" stroke-width="0.6"/>
<line x1="371.5" y1="637.4" x2="376.1" y2="637.4" stroke="#111" stroke-width="0.6"/>
<line x1="371.5" y1="664.8" x2="376.1" y2="664.8" stroke="#111" stroke-width="0.6"/>
<circle cx="298.5" cy="686.32" r="1.1" fill="#000"/>
<circle cx="299.43" cy="686.44" r="1.1" fill="#000"/>
<circle cx="300.36" cy="686.5" r="1.1" fill="#000"/>
<circle cx="301.29" cy="686.64" r="1.1" fill="#000"/>
<circle cx="302.21" cy="686.44" r="1.1" fill="#000"/>
<circle cx="303.14" cy="686.62" r="1.1" fill="#000"/>
<circle cx="304.07" cy="685.73" r="1.1" fill="#000"/>
<circle cx="305" cy="686.17" r="1.1" fill="#000"/>
<circle cx="315.6" cy="669.4" r="1.1" fill="#000"/>
<circle cx="315.2" cy="673.1" r="1.1" fill="#000"/>
<circle cx="312.9" cy="678" r="1.1" fill="#000"/>
<circle cx="315.6" cy="678.6" r="1.1" fill="#000"/>
<circle cx="317.8" cy="677.6" r="1.1" fill="#000"/>
<circle cx="319.3" cy="679.5" r="1.1" fill="#000"/>
<circle cx="314.1" cy="679.5" r="1.1" fill="#000"/>
<circle cx="316.9" cy="680.4" r="1.1" fill="#000"/>
<circle cx="330.6" cy="650.2" r="1.1" fill="#000"/>
<circle cx="331.7" cy="657.9" r="1.1" fill="#000"/>
<circle cx="329.3" cy="662.1" r="1.1" fill="#000"/>
<circle cx="333" cy="663" r="1.1" fill="#000"/>
<circle cx="327.5" cy="663.4" r="1.1" fill="#000"/>
<circle cx="330.6" cy="664.8" r="1.1" fill="#000"/>
<circle cx="333.9" cy="664.8" r="1.1" fill="#000"/>
<circle cx="329.3" cy="665.8" r="1.1" fill="#000"/>
<path d="M344.8 674.7L346.23 677.33L343.38 677.33Z" fill="none" stroke="#000" stroke-width="0.6"/>
<path d="M344.8 678.9L346.23 681.52L343.38 681.52Z" fill="none" stroke="#000" stroke-width="0.6"/>
<path d="M342.1 681.6L343.53 684.23L340.68 684.23Z" fill="none" stroke="#000" stroke-width="0.6"/>
<path d="M348.1 680.7L349.53 683.33L346.68 683.33Z" fill="none" stroke="#000" stroke-width="0.6"/>
<path d="M343.9 682.5L345.32 685.12L342.47 685.12Z" fill="none" stroke="#000" stroke-width="0.6"/>
<path d="M346.7 683.1L348.12 685.73L345.27 685.73Z" fill="none" stroke="#000" stroke-width="0.6"/>
<path d="M344.8 685.3L346.23 687.92L343.38 687.92Z" fill="none" stroke="#000" stroke-width="0.6"/>
<path d="M358.2 661.5L359.62 664.12L356.77 664.12Z" fill="none" stroke="#000" stroke-width="0.6"/>
<path d="M360 662.4L361.43 665.02L358.57 665.02Z" fill="none" stroke="#000" stroke-width="0.6"/>
<path d="M359.1 672.5L360.53 675.12L357.68 675.12Z" fill="none" stroke="#000" stroke-width="0.6"/>
<path d="M356.7 674.3L358.12 676.92L355.27 676.92Z" fill="none" stroke="#000" stroke-width="0.6"/>
<path d="M361.3 675.2L362.73 677.83L359.88 677.83Z" fill="none" stroke="#000" stroke-width="0.6"/>
<path d="M357.3 677.1L358.73 679.73L355.88 679.73Z" fill="none" stroke="#000" stroke-width="0.6"/>
<path d="M360.4 678L361.82 680.62L358.97 680.62Z" fill="none" stroke="#000" stroke-width="0.6"/>
<path d="M363.1 678.9L364.53 681.52L361.68 681.52Z" fill="none" stroke="#000" stroke-width="0.6"/>
<path d="M373.2 626.8L374.62 629.42L371.77 629.42Z" fill="none" stroke="#000" stroke-width="0.6"/>
<path d="M375.6 628.2L377.03 630.83L374.18 630.83Z" fill="none" stroke="#000" stroke-width="0.6"/>
<path d="M374.5 651.5L375.93 654.12L373.07 654.12Z" fill="none" stroke="#000" stroke-width="0.6"/>
<path d="M371.9 656.4L373.32 659.02L370.47 659.02Z" fill="none" stroke="#000" stroke-width="0.6"/>
<path d="M376.8 656.4L378.23 659.02L375.38 659.02Z" fill="none" stroke="#000" stroke-width="0.6"/>
<path d="M373.2 658.8L374.62 661.42L371.77 661.42Z" fill="none" stroke="#000" stroke-width="0.6"/>
<path d="M377.4 659.3L378.82 661.92L375.97 661.92Z" fill="none" stroke="#000" stroke-width="0.6"/>
<path d="M374.5 663L375.93 665.62L373.07 665.62Z" fill="none" stroke="#000" stroke-width="0.6"/>
<line x1="295" y1="616.2" x2="295" y2="693.4" stroke="#111" stroke-width="0.8"/>
<line x1="294.6" y1="693" x2="381.2" y2="693" stroke="#111" stroke-width="0.8"/>
<line x1="292.8" y1="693" x2="295" y2="693" stroke="#111" stroke-width="0.7"/>
<text x="292.4" y="695.79" font-size="7.8" text-anchor="end">0</text>
<line x1="292.8" y1="667.5" x2="295" y2="667.5" stroke="#111" stroke-width="0.7"/>
<text x="292.4" y="670.29" font-size="7.8" text-anchor="end">4</text>
<line x1="292.8" y1="642" x2="295" y2="642" stroke="#111" stroke-width="0.7"/>
<text x="292.4" y="644.79" font-size="7.8" text-anchor="end">8</text>
<line x1="292.8" y1="616.3" x2="295" y2="616.3" stroke="#111" stroke-width="0.7"/>
<text x="292.4" y="619.09" font-size="7.8" text-anchor="end">12</text>
<line x1="301.75" y1="693" x2="301.75" y2="695" stroke="#111" stroke-width="0.7"/>
<line x1="300.55" y1="702.2" x2="302.95" y2="702.2" stroke="#111" stroke-width="0.7"/>
<line x1="300.55" y1="711.6" x2="302.95" y2="711.6" stroke="#111" stroke-width="0.7"/>
<line x1="316.15" y1="693" x2="316.15" y2="695" stroke="#111" stroke-width="0.7"/>
<line x1="314.05" y1="701.6" x2="318.25" y2="701.6" stroke="#111" stroke-width="0.7"/>
<line x1="316.15" y1="699.5" x2="316.15" y2="703.7" stroke="#111" stroke-width="0.7"/>
<line x1="314.95" y1="711.6" x2="317.35" y2="711.6" stroke="#111" stroke-width="0.7"/>
<line x1="330.45" y1="693" x2="330.45" y2="695" stroke="#111" stroke-width="0.7"/>
<line x1="329.25" y1="702.2" x2="331.65" y2="702.2" stroke="#111" stroke-width="0.7"/>
<line x1="328.35" y1="711" x2="332.55" y2="711" stroke="#111" stroke-width="0.7"/>
<line x1="330.45" y1="708.9" x2="330.45" y2="713.1" stroke="#111" stroke-width="0.7"/>
<line x1="344.95" y1="693" x2="344.95" y2="695" stroke="#111" stroke-width="0.7"/>
<line x1="343.75" y1="702.2" x2="346.15" y2="702.2" stroke="#111" stroke-width="0.7"/>
<line x1="343.75" y1="711.6" x2="346.15" y2="711.6" stroke="#111" stroke-width="0.7"/>
<line x1="359.45" y1="693" x2="359.45" y2="695" stroke="#111" stroke-width="0.7"/>
<line x1="357.35" y1="701.6" x2="361.55" y2="701.6" stroke="#111" stroke-width="0.7"/>
<line x1="359.45" y1="699.5" x2="359.45" y2="703.7" stroke="#111" stroke-width="0.7"/>
<line x1="358.25" y1="711.6" x2="360.65" y2="711.6" stroke="#111" stroke-width="0.7"/>
<line x1="373.8" y1="693" x2="373.8" y2="695" stroke="#111" stroke-width="0.7"/>
<line x1="372.6" y1="702.2" x2="375" y2="702.2" stroke="#111" stroke-width="0.7"/>
<line x1="371.7" y1="711" x2="375.9" y2="711" stroke="#111" stroke-width="0.7"/>
<line x1="373.8" y1="708.9" x2="373.8" y2="713.1" stroke="#111" stroke-width="0.7"/>
<text x="295.5" y="704.24" font-size="8.2" text-anchor="end">CQ</text>
<text x="295.5" y="713.74" font-size="8.2" text-anchor="end">BafA1</text>
<text x="268.45" y="652.5" font-size="7.95" text-anchor="middle" transform="rotate(-90 268.45 652.5)">Relative P62</text>
<text x="279.45" y="652.3" font-size="7.95" text-anchor="middle" transform="rotate(-90 279.45 652.3)">(Normalized by GAPDH)</text>
<path d="M302 658.6V657H316.5V658.6" fill="none" stroke="#111" stroke-width="0.6"/>
<text x="308.8" y="655.56" font-size="6.3" text-anchor="middle">0.0879</text>
<path d="M302 648.4V646.8H331.3V648.4" fill="none" stroke="#111" stroke-width="0.6"/>
<text x="317.5" y="645.36" font-size="6.3" text-anchor="middle">&lt;0.0001</text>
<path d="M302 639.1V637.5H346.8V639.1" fill="none" stroke="#111" stroke-width="0.6"/>
<text x="322.5" y="636.06" font-size="6.3" text-anchor="middle">0.8060</text>
<path d="M314.5 629.6V628H360V629.6" fill="none" stroke="#111" stroke-width="0.6"/>
<text x="335" y="626.56" font-size="6.3" text-anchor="middle">0.8990</text>
<path d="M331.3 620.4V618.8H376.8V620.4" fill="none" stroke="#111" stroke-width="0.6"/>
<text x="353.8" y="617.36" font-size="6.3" text-anchor="middle">0.0450</text>
<rect x="295" y="581.3" width="10.7" height="5.7" fill="#e4e4e4" stroke="#111" stroke-width="0.7"/>
<text x="308.7" y="586.88" font-size="7.2">Ad-GFP</text>
<rect x="341.8" y="581.3" width="10.7" height="5.7" fill="#f5b57e" stroke="#111" stroke-width="0.7"/>
<text x="354.5" y="586.88" font-size="7.2">Ad-TFEB</text>
<rect x="428.1" y="687.9" width="9.8" height="5.1" fill="#e4e4e4" stroke="#111" stroke-width="0.8"/>
<rect x="443.1" y="667.1" width="10" height="25.9" fill="#e4e4e4" stroke="#111" stroke-width="0.8"/>
<rect x="458.1" y="652.3" width="10" height="40.7" fill="#e4e4e4" stroke="#111" stroke-width="0.8"/>
<rect x="473.3" y="683.1" width="9.8" height="9.9" fill="#f5b57e" stroke="#111" stroke-width="0.8"/>
<rect x="488.3" y="655.2" width="10" height="37.8" fill="#f5b57e" stroke="#111" stroke-width="0.8"/>
<rect x="503.3" y="636.9" width="10" height="56.1" fill="#f5b57e" stroke="#111" stroke-width="0.8"/>
<line x1="433" y1="687" x2="433" y2="688.8" stroke="#111" stroke-width="0.6"/>
<line x1="430.7" y1="687" x2="435.3" y2="687" stroke="#111" stroke-width="0.6"/>
<line x1="430.7" y1="688.8" x2="435.3" y2="688.8" stroke="#111" stroke-width="0.6"/>
<line x1="448.1" y1="661.5" x2="448.1" y2="672.5" stroke="#111" stroke-width="0.6"/>
<line x1="445.8" y1="661.5" x2="450.4" y2="661.5" stroke="#111" stroke-width="0.6"/>
<line x1="445.8" y1="672.5" x2="450.4" y2="672.5" stroke="#111" stroke-width="0.6"/>
<line x1="463.1" y1="638.5" x2="463.1" y2="666.3" stroke="#111" stroke-width="0.6"/>
<line x1="460.8" y1="638.5" x2="465.4" y2="638.5" stroke="#111" stroke-width="0.6"/>
<line x1="460.8" y1="666.3" x2="465.4" y2="666.3" stroke="#111" stroke-width="0.6"/>
<line x1="478.2" y1="678.3" x2="478.2" y2="686.9" stroke="#111" stroke-width="0.6"/>
<line x1="475.9" y1="678.3" x2="480.5" y2="678.3" stroke="#111" stroke-width="0.6"/>
<line x1="475.9" y1="686.9" x2="480.5" y2="686.9" stroke="#111" stroke-width="0.6"/>
<line x1="493.3" y1="647.5" x2="493.3" y2="662.3" stroke="#111" stroke-width="0.6"/>
<line x1="491" y1="647.5" x2="495.6" y2="647.5" stroke="#111" stroke-width="0.6"/>
<line x1="491" y1="662.3" x2="495.6" y2="662.3" stroke="#111" stroke-width="0.6"/>
<line x1="508.3" y1="629.2" x2="508.3" y2="644.2" stroke="#111" stroke-width="0.6"/>
<line x1="506" y1="629.2" x2="510.6" y2="629.2" stroke="#111" stroke-width="0.6"/>
<line x1="506" y1="644.2" x2="510.6" y2="644.2" stroke="#111" stroke-width="0.6"/>
<circle cx="430" cy="687.22" r="1.1" fill="#000"/>
<circle cx="431.2" cy="687.05" r="1.1" fill="#000"/>
<circle cx="432.4" cy="687.55" r="1.1" fill="#000"/>
<circle cx="433.6" cy="686.97" r="1.1" fill="#000"/>
<circle cx="434.8" cy="687.44" r="1.1" fill="#000"/>
<circle cx="436" cy="687.27" r="1.1" fill="#000"/>
<circle cx="445" cy="661.9" r="1.1" fill="#000"/>
<circle cx="448.8" cy="661.5" r="1.1" fill="#000"/>
<circle cx="451.7" cy="661" r="1.1" fill="#000"/>
<circle cx="448.8" cy="665.8" r="1.1" fill="#000"/>
<circle cx="446" cy="668.7" r="1.1" fill="#000"/>
<circle cx="448.8" cy="671.5" r="1.1" fill="#000"/>
<circle cx="449.8" cy="673.8" r="1.1" fill="#000"/>
<circle cx="462.7" cy="639.2" r="1.1" fill="#000"/>
<circle cx="459.4" cy="642.7" r="1.1" fill="#000"/>
<circle cx="462.7" cy="644.6" r="1.1" fill="#000"/>
<circle cx="466.7" cy="646" r="1.1" fill="#000"/>
<circle cx="461.3" cy="670.2" r="1.1" fill="#000"/>
<circle cx="465.2" cy="670.8" r="1.1" fill="#000"/>
<path d="M479.2 673.9L480.62 676.52L477.77 676.52Z" fill="none" stroke="#000" stroke-width="0.6"/>
<path d="M477.7 676.8L479.12 679.42L476.27 679.42Z" fill="none" stroke="#000" stroke-width="0.6"/>
<path d="M475.8 682.5L477.23 685.12L474.38 685.12Z" fill="none" stroke="#000" stroke-width="0.6"/>
<path d="M479.6 683.1L481.03 685.73L478.18 685.73Z" fill="none" stroke="#000" stroke-width="0.6"/>
<path d="M477.7 684.5L479.12 687.12L476.27 687.12Z" fill="none" stroke="#000" stroke-width="0.6"/>
<path d="M481.5 685.4L482.93 688.02L480.07 688.02Z" fill="none" stroke="#000" stroke-width="0.6"/>
<path d="M475.4 683.9L476.82 686.52L473.97 686.52Z" fill="none" stroke="#000" stroke-width="0.6"/>
<path d="M493.1 644.7L494.53 647.33L491.68 647.33Z" fill="none" stroke="#000" stroke-width="0.6"/>
<path d="M490.8 648.5L492.23 651.12L489.38 651.12Z" fill="none" stroke="#000" stroke-width="0.6"/>
<path d="M495.4 648.5L496.82 651.12L493.97 651.12Z" fill="none" stroke="#000" stroke-width="0.6"/>
<path d="M493.1 655.6L494.53 658.23L491.68 658.23Z" fill="none" stroke="#000" stroke-width="0.6"/>
<path d="M490.8 660.4L492.23 663.02L489.38 663.02Z" fill="none" stroke="#000" stroke-width="0.6"/>
<path d="M493.5 660L494.93 662.62L492.07 662.62Z" fill="none" stroke="#000" stroke-width="0.6"/>
<path d="M496 662.3L497.43 664.92L494.57 664.92Z" fill="none" stroke="#000" stroke-width="0.6"/>
<path d="M508.1 626.2L509.53 628.83L506.68 628.83Z" fill="none" stroke="#000" stroke-width="0.6"/>
<path d="M506.2 630L507.62 632.62L504.77 632.62Z" fill="none" stroke="#000" stroke-width="0.6"/>
<path d="M510.4 630L511.82 632.62L508.97 632.62Z" fill="none" stroke="#000" stroke-width="0.6"/>
<path d="M508.1 633.1L509.53 635.73L506.68 635.73Z" fill="none" stroke="#000" stroke-width="0.6"/>
<path d="M508.1 637.3L509.53 639.92L506.68 639.92Z" fill="none" stroke="#000" stroke-width="0.6"/>
<path d="M508.1 642.2L509.53 644.83L506.68 644.83Z" fill="none" stroke="#000" stroke-width="0.6"/>
<path d="M508.1 647.9L509.53 650.52L506.68 650.52Z" fill="none" stroke="#000" stroke-width="0.6"/>
<line x1="425" y1="616.2" x2="425" y2="693.4" stroke="#111" stroke-width="0.8"/>
<line x1="424.6" y1="693" x2="515.9" y2="693" stroke="#111" stroke-width="0.8"/>
<line x1="422.8" y1="693" x2="425" y2="693" stroke="#111" stroke-width="0.7"/>
<text x="422.4" y="695.79" font-size="7.8" text-anchor="end">0</text>
<line x1="422.8" y1="667.5" x2="425" y2="667.5" stroke="#111" stroke-width="0.7"/>
<text x="422.4" y="670.29" font-size="7.8" text-anchor="end">5</text>
<line x1="422.8" y1="642" x2="425" y2="642" stroke="#111" stroke-width="0.7"/>
<text x="422.4" y="644.79" font-size="7.8" text-anchor="end">10</text>
<line x1="422.8" y1="616.3" x2="425" y2="616.3" stroke="#111" stroke-width="0.7"/>
<text x="422.4" y="619.09" font-size="7.8" text-anchor="end">15</text>
<line x1="433" y1="693" x2="433" y2="695" stroke="#111" stroke-width="0.7"/>
<line x1="431.8" y1="702.2" x2="434.2" y2="702.2" stroke="#111" stroke-width="0.7"/>
<line x1="431.8" y1="711.6" x2="434.2" y2="711.6" stroke="#111" stroke-width="0.7"/>
<line x1="448.1" y1="693" x2="448.1" y2="695" stroke="#111" stroke-width="0.7"/>
<line x1="446" y1="701.6" x2="450.2" y2="701.6" stroke="#111" stroke-width="0.7"/>
<line x1="448.1" y1="699.5" x2="448.1" y2="703.7" stroke="#111" stroke-width="0.7"/>
<line x1="446.9" y1="711.6" x2="449.3" y2="711.6" stroke="#111" stroke-width="0.7"/>
<line x1="463.1" y1="693" x2="463.1" y2="695" stroke="#111" stroke-width="0.7"/>
<line x1="461.9" y1="702.2" x2="464.3" y2="702.2" stroke="#111" stroke-width="0.7"/>
<line x1="461" y1="711" x2="465.2" y2="711" stroke="#111" stroke-width="0.7"/>
<line x1="463.1" y1="708.9" x2="463.1" y2="713.1" stroke="#111" stroke-width="0.7"/>
<line x1="478.2" y1="693" x2="478.2" y2="695" stroke="#111" stroke-width="0.7"/>
<line x1="477" y1="702.2" x2="479.4" y2="702.2" stroke="#111" stroke-width="0.7"/>
<line x1="477" y1="711.6" x2="479.4" y2="711.6" stroke="#111" stroke-width="0.7"/>
<line x1="493.3" y1="693" x2="493.3" y2="695" stroke="#111" stroke-width="0.7"/>
<line x1="491.2" y1="701.6" x2="495.4" y2="701.6" stroke="#111" stroke-width="0.7"/>
<line x1="493.3" y1="699.5" x2="493.3" y2="703.7" stroke="#111" stroke-width="0.7"/>
<line x1="492.1" y1="711.6" x2="494.5" y2="711.6" stroke="#111" stroke-width="0.7"/>
<line x1="508.3" y1="693" x2="508.3" y2="695" stroke="#111" stroke-width="0.7"/>
<line x1="507.1" y1="702.2" x2="509.5" y2="702.2" stroke="#111" stroke-width="0.7"/>
<line x1="506.2" y1="711" x2="510.4" y2="711" stroke="#111" stroke-width="0.7"/>
<line x1="508.3" y1="708.9" x2="508.3" y2="713.1" stroke="#111" stroke-width="0.7"/>
<text x="425.5" y="704.24" font-size="8.2" text-anchor="end">CQ</text>
<text x="425.5" y="713.74" font-size="8.2" text-anchor="end">BafA1</text>
<text x="399.15" y="652.5" font-size="7.95" text-anchor="middle" transform="rotate(-90 399.15 652.5)">Relative LC3-II</text>
<text x="409.65" y="652.3" font-size="7.95" text-anchor="middle" transform="rotate(-90 409.65 652.3)">(Normalized by GAPDH)</text>
<path d="M432.5 659.6V658H448V659.6" fill="none" stroke="#111" stroke-width="0.6"/>
<text x="440" y="656.56" font-size="6.3" text-anchor="middle">0.0007</text>
<path d="M432.5 634.1V632.5H463V634.1" fill="none" stroke="#111" stroke-width="0.6"/>
<text x="448.8" y="631.06" font-size="6.3" text-anchor="middle">&lt;0.0001</text>
<path d="M432.5 624.1V622.5H478.8V624.1" fill="none" stroke="#111" stroke-width="0.6"/>
<text x="454.5" y="621.06" font-size="6.3" text-anchor="middle">0.8168</text>
<path d="M446.3 614.6V613H493V614.6" fill="none" stroke="#111" stroke-width="0.6"/>
<text x="466.8" y="611.56" font-size="6.3" text-anchor="middle">0.1091</text>
<path d="M463 605.4V603.8H508.8V605.4" fill="none" stroke="#111" stroke-width="0.6"/>
<text x="488" y="602.36" font-size="6.3" text-anchor="middle">0.0212</text>
<rect x="425" y="581.3" width="10.7" height="5.7" fill="#e4e4e4" stroke="#111" stroke-width="0.7"/>
<text x="439.2" y="586.88" font-size="7.2">Ad-GFP</text>
<rect x="474.5" y="581.3" width="10.7" height="5.7" fill="#f5b57e" stroke="#111" stroke-width="0.7"/>
<text x="487.5" y="586.88" font-size="7.2">Ad-TFEB</text>
</g>
</svg>
</body></html>
